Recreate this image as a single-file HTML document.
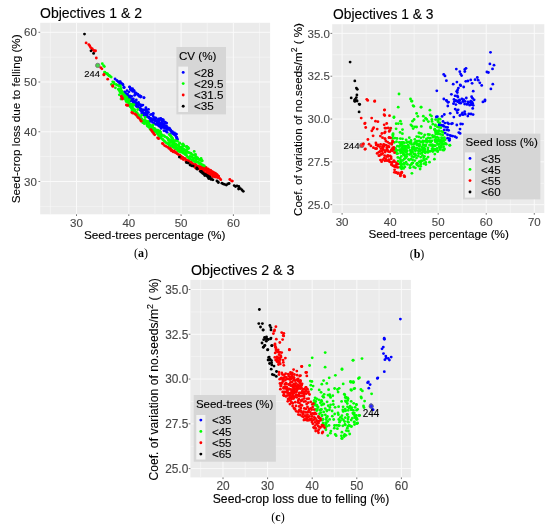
<!DOCTYPE html>
<html><head><meta charset="utf-8"><title>Objectives scatter plots</title>
<style>html,body{margin:0;padding:0;background:#fff;} svg{display:block;}</style>
</head><body>
<svg width="550" height="526" viewBox="0 0 550 526"><rect x="40.2" y="22.8" width="229.90" height="191.50" fill="#ebebeb"/>
<line x1="50.35" y1="22.8" x2="50.35" y2="214.3" stroke="#f8f8f8" stroke-width="0.6"/>
<line x1="102.65" y1="22.8" x2="102.65" y2="214.3" stroke="#f8f8f8" stroke-width="0.6"/>
<line x1="154.95" y1="22.8" x2="154.95" y2="214.3" stroke="#f8f8f8" stroke-width="0.6"/>
<line x1="207.25" y1="22.8" x2="207.25" y2="214.3" stroke="#f8f8f8" stroke-width="0.6"/>
<line x1="259.55" y1="22.8" x2="259.55" y2="214.3" stroke="#f8f8f8" stroke-width="0.6"/>
<line x1="40.2" y1="206.36" x2="270.1" y2="206.36" stroke="#f8f8f8" stroke-width="0.6"/>
<line x1="40.2" y1="156.62" x2="270.1" y2="156.62" stroke="#f8f8f8" stroke-width="0.6"/>
<line x1="40.2" y1="106.89" x2="270.1" y2="106.89" stroke="#f8f8f8" stroke-width="0.6"/>
<line x1="40.2" y1="57.16" x2="270.1" y2="57.16" stroke="#f8f8f8" stroke-width="0.6"/>
<line x1="76.50" y1="22.8" x2="76.50" y2="214.3" stroke="#fafafa" stroke-width="1.0"/>
<line x1="76.50" y1="214.3" x2="76.50" y2="216.0" stroke="#555" stroke-width="0.8"/>
<line x1="128.80" y1="22.8" x2="128.80" y2="214.3" stroke="#fafafa" stroke-width="1.0"/>
<line x1="128.80" y1="214.3" x2="128.80" y2="216.0" stroke="#555" stroke-width="0.8"/>
<line x1="181.10" y1="22.8" x2="181.10" y2="214.3" stroke="#fafafa" stroke-width="1.0"/>
<line x1="181.10" y1="214.3" x2="181.10" y2="216.0" stroke="#555" stroke-width="0.8"/>
<line x1="233.40" y1="22.8" x2="233.40" y2="214.3" stroke="#fafafa" stroke-width="1.0"/>
<line x1="233.40" y1="214.3" x2="233.40" y2="216.0" stroke="#555" stroke-width="0.8"/>
<line x1="40.2" y1="181.49" x2="270.1" y2="181.49" stroke="#fafafa" stroke-width="1.0"/>
<line x1="38.5" y1="181.49" x2="40.2" y2="181.49" stroke="#555" stroke-width="0.8"/>
<line x1="40.2" y1="131.76" x2="270.1" y2="131.76" stroke="#fafafa" stroke-width="1.0"/>
<line x1="38.5" y1="131.76" x2="40.2" y2="131.76" stroke="#555" stroke-width="0.8"/>
<line x1="40.2" y1="82.03" x2="270.1" y2="82.03" stroke="#fafafa" stroke-width="1.0"/>
<line x1="38.5" y1="82.03" x2="40.2" y2="82.03" stroke="#555" stroke-width="0.8"/>
<line x1="40.2" y1="32.30" x2="270.1" y2="32.30" stroke="#fafafa" stroke-width="1.0"/>
<line x1="38.5" y1="32.30" x2="40.2" y2="32.30" stroke="#555" stroke-width="0.8"/>
<text x="76.50" y="226.50" font-family="'Liberation Sans', Arial, sans-serif" font-size="11.5" fill="#474747" stroke="#474747" stroke-width="0.12" text-anchor="middle" font-weight="normal">30</text>
<text x="36.90" y="185.59" font-family="'Liberation Sans', Arial, sans-serif" font-size="11.5" fill="#474747" stroke="#474747" stroke-width="0.12" text-anchor="end" font-weight="normal">30</text>
<text x="128.80" y="226.50" font-family="'Liberation Sans', Arial, sans-serif" font-size="11.5" fill="#474747" stroke="#474747" stroke-width="0.12" text-anchor="middle" font-weight="normal">40</text>
<text x="36.90" y="135.86" font-family="'Liberation Sans', Arial, sans-serif" font-size="11.5" fill="#474747" stroke="#474747" stroke-width="0.12" text-anchor="end" font-weight="normal">40</text>
<text x="181.10" y="226.50" font-family="'Liberation Sans', Arial, sans-serif" font-size="11.5" fill="#474747" stroke="#474747" stroke-width="0.12" text-anchor="middle" font-weight="normal">50</text>
<text x="36.90" y="86.13" font-family="'Liberation Sans', Arial, sans-serif" font-size="11.5" fill="#474747" stroke="#474747" stroke-width="0.12" text-anchor="end" font-weight="normal">50</text>
<text x="233.40" y="226.50" font-family="'Liberation Sans', Arial, sans-serif" font-size="11.5" fill="#474747" stroke="#474747" stroke-width="0.12" text-anchor="middle" font-weight="normal">60</text>
<text x="36.90" y="36.40" font-family="'Liberation Sans', Arial, sans-serif" font-size="11.5" fill="#474747" stroke="#474747" stroke-width="0.12" text-anchor="end" font-weight="normal">60</text>
<text x="40.00" y="17.90" font-family="'Liberation Sans', Arial, sans-serif" font-size="14.0" fill="#000" stroke="#000" stroke-width="0.12" text-anchor="start" font-weight="normal">Objectives 1 &amp; 2</text>
<text x="154.70" y="239.30" font-family="'Liberation Sans', Arial, sans-serif" font-size="11.8" fill="#000" stroke="#000" stroke-width="0.12" text-anchor="middle" font-weight="normal">Seed-trees percentage (%)</text>
<text x="20.40" y="118.90" font-family="'Liberation Sans', Arial, sans-serif" font-size="11.7" fill="#000" stroke="#000" stroke-width="0.12" text-anchor="middle" font-weight="normal" transform="rotate(-90 20.40 118.90)">Seed-crop loss due to felling (%)</text>
<text x="141.00" y="257.20" font-family="'Liberation Serif', 'Times New Roman', serif" font-size="12" fill="#000" text-anchor="middle" font-weight="normal">(<tspan font-weight="bold">a</tspan>)</text>
<rect x="332.2" y="24.2" width="212.10" height="188.80" fill="#ebebeb"/>
<line x1="366.12" y1="24.2" x2="366.12" y2="213" stroke="#f8f8f8" stroke-width="0.6"/>
<line x1="414.18" y1="24.2" x2="414.18" y2="213" stroke="#f8f8f8" stroke-width="0.6"/>
<line x1="462.23" y1="24.2" x2="462.23" y2="213" stroke="#f8f8f8" stroke-width="0.6"/>
<line x1="510.27" y1="24.2" x2="510.27" y2="213" stroke="#f8f8f8" stroke-width="0.6"/>
<line x1="332.2" y1="183.29" x2="544.3" y2="183.29" stroke="#f8f8f8" stroke-width="0.6"/>
<line x1="332.2" y1="140.46" x2="544.3" y2="140.46" stroke="#f8f8f8" stroke-width="0.6"/>
<line x1="332.2" y1="97.64" x2="544.3" y2="97.64" stroke="#f8f8f8" stroke-width="0.6"/>
<line x1="332.2" y1="54.81" x2="544.3" y2="54.81" stroke="#f8f8f8" stroke-width="0.6"/>
<line x1="342.10" y1="24.2" x2="342.10" y2="213" stroke="#fafafa" stroke-width="1.0"/>
<line x1="342.10" y1="213" x2="342.10" y2="214.7" stroke="#555" stroke-width="0.8"/>
<line x1="390.15" y1="24.2" x2="390.15" y2="213" stroke="#fafafa" stroke-width="1.0"/>
<line x1="390.15" y1="213" x2="390.15" y2="214.7" stroke="#555" stroke-width="0.8"/>
<line x1="438.20" y1="24.2" x2="438.20" y2="213" stroke="#fafafa" stroke-width="1.0"/>
<line x1="438.20" y1="213" x2="438.20" y2="214.7" stroke="#555" stroke-width="0.8"/>
<line x1="486.25" y1="24.2" x2="486.25" y2="213" stroke="#fafafa" stroke-width="1.0"/>
<line x1="486.25" y1="213" x2="486.25" y2="214.7" stroke="#555" stroke-width="0.8"/>
<line x1="534.30" y1="24.2" x2="534.30" y2="213" stroke="#fafafa" stroke-width="1.0"/>
<line x1="534.30" y1="213" x2="534.30" y2="214.7" stroke="#555" stroke-width="0.8"/>
<line x1="332.2" y1="204.70" x2="544.3" y2="204.70" stroke="#fafafa" stroke-width="1.0"/>
<line x1="330.5" y1="204.70" x2="332.2" y2="204.70" stroke="#555" stroke-width="0.8"/>
<line x1="332.2" y1="161.88" x2="544.3" y2="161.88" stroke="#fafafa" stroke-width="1.0"/>
<line x1="330.5" y1="161.88" x2="332.2" y2="161.88" stroke="#555" stroke-width="0.8"/>
<line x1="332.2" y1="119.05" x2="544.3" y2="119.05" stroke="#fafafa" stroke-width="1.0"/>
<line x1="330.5" y1="119.05" x2="332.2" y2="119.05" stroke="#555" stroke-width="0.8"/>
<line x1="332.2" y1="76.22" x2="544.3" y2="76.22" stroke="#fafafa" stroke-width="1.0"/>
<line x1="330.5" y1="76.22" x2="332.2" y2="76.22" stroke="#555" stroke-width="0.8"/>
<line x1="332.2" y1="33.40" x2="544.3" y2="33.40" stroke="#fafafa" stroke-width="1.0"/>
<line x1="330.5" y1="33.40" x2="332.2" y2="33.40" stroke="#555" stroke-width="0.8"/>
<text x="342.10" y="225.50" font-family="'Liberation Sans', Arial, sans-serif" font-size="11.5" fill="#474747" stroke="#474747" stroke-width="0.12" text-anchor="middle" font-weight="normal">30</text>
<text x="390.15" y="225.50" font-family="'Liberation Sans', Arial, sans-serif" font-size="11.5" fill="#474747" stroke="#474747" stroke-width="0.12" text-anchor="middle" font-weight="normal">40</text>
<text x="438.20" y="225.50" font-family="'Liberation Sans', Arial, sans-serif" font-size="11.5" fill="#474747" stroke="#474747" stroke-width="0.12" text-anchor="middle" font-weight="normal">50</text>
<text x="486.25" y="225.50" font-family="'Liberation Sans', Arial, sans-serif" font-size="11.5" fill="#474747" stroke="#474747" stroke-width="0.12" text-anchor="middle" font-weight="normal">60</text>
<text x="534.30" y="225.50" font-family="'Liberation Sans', Arial, sans-serif" font-size="11.5" fill="#474747" stroke="#474747" stroke-width="0.12" text-anchor="middle" font-weight="normal">70</text>
<text x="329.90" y="208.90" font-family="'Liberation Sans', Arial, sans-serif" font-size="11.5" fill="#474747" stroke="#474747" stroke-width="0.12" text-anchor="end" font-weight="normal">25.0</text>
<text x="329.90" y="166.07" font-family="'Liberation Sans', Arial, sans-serif" font-size="11.5" fill="#474747" stroke="#474747" stroke-width="0.12" text-anchor="end" font-weight="normal">27.5</text>
<text x="329.90" y="123.25" font-family="'Liberation Sans', Arial, sans-serif" font-size="11.5" fill="#474747" stroke="#474747" stroke-width="0.12" text-anchor="end" font-weight="normal">30.0</text>
<text x="329.90" y="80.42" font-family="'Liberation Sans', Arial, sans-serif" font-size="11.5" fill="#474747" stroke="#474747" stroke-width="0.12" text-anchor="end" font-weight="normal">32.5</text>
<text x="329.90" y="37.60" font-family="'Liberation Sans', Arial, sans-serif" font-size="11.5" fill="#474747" stroke="#474747" stroke-width="0.12" text-anchor="end" font-weight="normal">35.0</text>
<text x="333.00" y="19.00" font-family="'Liberation Sans', Arial, sans-serif" font-size="13.8" fill="#000" stroke="#000" stroke-width="0.12" text-anchor="start" font-weight="normal">Objectives 1 &amp; 3</text>
<text x="438.70" y="238.00" font-family="'Liberation Sans', Arial, sans-serif" font-size="11.7" fill="#000" stroke="#000" stroke-width="0.12" text-anchor="middle" font-weight="normal">Seed-trees percentage (%)</text>
<text x="302.00" y="119.50" font-family="'Liberation Sans', Arial, sans-serif" font-size="11.6" fill="#000" stroke="#000" stroke-width="0.12" text-anchor="middle" font-weight="normal" transform="rotate(-90 302.00 119.50)">Coef. of variation of no.seeds/m<tspan dy="-5.3" font-size="8.6">2</tspan><tspan dy="5.3"> ( %)</tspan></text>
<text x="417.00" y="257.50" font-family="'Liberation Serif', 'Times New Roman', serif" font-size="12" fill="#000" text-anchor="middle" font-weight="normal">(<tspan font-weight="bold">b</tspan>)</text>
<rect x="190.4" y="279.9" width="220.50" height="197.50" fill="#ebebeb"/>
<line x1="200.70" y1="279.9" x2="200.70" y2="477.4" stroke="#f8f8f8" stroke-width="0.6"/>
<line x1="245.30" y1="279.9" x2="245.30" y2="477.4" stroke="#f8f8f8" stroke-width="0.6"/>
<line x1="289.90" y1="279.9" x2="289.90" y2="477.4" stroke="#f8f8f8" stroke-width="0.6"/>
<line x1="334.50" y1="279.9" x2="334.50" y2="477.4" stroke="#f8f8f8" stroke-width="0.6"/>
<line x1="379.10" y1="279.9" x2="379.10" y2="477.4" stroke="#f8f8f8" stroke-width="0.6"/>
<line x1="190.4" y1="446.21" x2="410.9" y2="446.21" stroke="#f8f8f8" stroke-width="0.6"/>
<line x1="190.4" y1="401.44" x2="410.9" y2="401.44" stroke="#f8f8f8" stroke-width="0.6"/>
<line x1="190.4" y1="356.66" x2="410.9" y2="356.66" stroke="#f8f8f8" stroke-width="0.6"/>
<line x1="190.4" y1="311.89" x2="410.9" y2="311.89" stroke="#f8f8f8" stroke-width="0.6"/>
<line x1="223.00" y1="279.9" x2="223.00" y2="477.4" stroke="#fafafa" stroke-width="1.0"/>
<line x1="223.00" y1="477.4" x2="223.00" y2="479.09999999999997" stroke="#555" stroke-width="0.8"/>
<line x1="267.60" y1="279.9" x2="267.60" y2="477.4" stroke="#fafafa" stroke-width="1.0"/>
<line x1="267.60" y1="477.4" x2="267.60" y2="479.09999999999997" stroke="#555" stroke-width="0.8"/>
<line x1="312.20" y1="279.9" x2="312.20" y2="477.4" stroke="#fafafa" stroke-width="1.0"/>
<line x1="312.20" y1="477.4" x2="312.20" y2="479.09999999999997" stroke="#555" stroke-width="0.8"/>
<line x1="356.80" y1="279.9" x2="356.80" y2="477.4" stroke="#fafafa" stroke-width="1.0"/>
<line x1="356.80" y1="477.4" x2="356.80" y2="479.09999999999997" stroke="#555" stroke-width="0.8"/>
<line x1="401.40" y1="279.9" x2="401.40" y2="477.4" stroke="#fafafa" stroke-width="1.0"/>
<line x1="401.40" y1="477.4" x2="401.40" y2="479.09999999999997" stroke="#555" stroke-width="0.8"/>
<line x1="190.4" y1="468.60" x2="410.9" y2="468.60" stroke="#fafafa" stroke-width="1.0"/>
<line x1="188.70000000000002" y1="468.60" x2="190.4" y2="468.60" stroke="#555" stroke-width="0.8"/>
<line x1="190.4" y1="423.82" x2="410.9" y2="423.82" stroke="#fafafa" stroke-width="1.0"/>
<line x1="188.70000000000002" y1="423.82" x2="190.4" y2="423.82" stroke="#555" stroke-width="0.8"/>
<line x1="190.4" y1="379.05" x2="410.9" y2="379.05" stroke="#fafafa" stroke-width="1.0"/>
<line x1="188.70000000000002" y1="379.05" x2="190.4" y2="379.05" stroke="#555" stroke-width="0.8"/>
<line x1="190.4" y1="334.27" x2="410.9" y2="334.27" stroke="#fafafa" stroke-width="1.0"/>
<line x1="188.70000000000002" y1="334.27" x2="190.4" y2="334.27" stroke="#555" stroke-width="0.8"/>
<line x1="190.4" y1="289.50" x2="410.9" y2="289.50" stroke="#fafafa" stroke-width="1.0"/>
<line x1="188.70000000000002" y1="289.50" x2="190.4" y2="289.50" stroke="#555" stroke-width="0.8"/>
<text x="223.00" y="489.90" font-family="'Liberation Sans', Arial, sans-serif" font-size="11.9" fill="#474747" stroke="#474747" stroke-width="0.12" text-anchor="middle" font-weight="normal">20</text>
<text x="267.60" y="489.90" font-family="'Liberation Sans', Arial, sans-serif" font-size="11.9" fill="#474747" stroke="#474747" stroke-width="0.12" text-anchor="middle" font-weight="normal">30</text>
<text x="312.20" y="489.90" font-family="'Liberation Sans', Arial, sans-serif" font-size="11.9" fill="#474747" stroke="#474747" stroke-width="0.12" text-anchor="middle" font-weight="normal">40</text>
<text x="356.80" y="489.90" font-family="'Liberation Sans', Arial, sans-serif" font-size="11.9" fill="#474747" stroke="#474747" stroke-width="0.12" text-anchor="middle" font-weight="normal">50</text>
<text x="401.40" y="489.90" font-family="'Liberation Sans', Arial, sans-serif" font-size="11.9" fill="#474747" stroke="#474747" stroke-width="0.12" text-anchor="middle" font-weight="normal">60</text>
<text x="188.30" y="472.90" font-family="'Liberation Sans', Arial, sans-serif" font-size="11.9" fill="#474747" stroke="#474747" stroke-width="0.12" text-anchor="end" font-weight="normal">25.0</text>
<text x="188.30" y="428.12" font-family="'Liberation Sans', Arial, sans-serif" font-size="11.9" fill="#474747" stroke="#474747" stroke-width="0.12" text-anchor="end" font-weight="normal">27.5</text>
<text x="188.30" y="383.35" font-family="'Liberation Sans', Arial, sans-serif" font-size="11.9" fill="#474747" stroke="#474747" stroke-width="0.12" text-anchor="end" font-weight="normal">30.0</text>
<text x="188.30" y="338.57" font-family="'Liberation Sans', Arial, sans-serif" font-size="11.9" fill="#474747" stroke="#474747" stroke-width="0.12" text-anchor="end" font-weight="normal">32.5</text>
<text x="188.30" y="293.80" font-family="'Liberation Sans', Arial, sans-serif" font-size="11.9" fill="#474747" stroke="#474747" stroke-width="0.12" text-anchor="end" font-weight="normal">35.0</text>
<text x="191.00" y="275.00" font-family="'Liberation Sans', Arial, sans-serif" font-size="14.2" fill="#000" stroke="#000" stroke-width="0.12" text-anchor="start" font-weight="normal">Objectives 2 &amp; 3</text>
<text x="301.00" y="503.00" font-family="'Liberation Sans', Arial, sans-serif" font-size="12.22" fill="#000" stroke="#000" stroke-width="0.12" text-anchor="middle" font-weight="normal">Seed-crop loss due to felling (%)</text>
<text x="158.40" y="379.40" font-family="'Liberation Sans', Arial, sans-serif" font-size="12.16" fill="#000" stroke="#000" stroke-width="0.12" text-anchor="middle" font-weight="normal" transform="rotate(-90 158.40 379.40)">Coef. of variation of no.seeds/m<tspan dy="-5.5" font-size="9">2</tspan><tspan dy="5.5"> ( %)</tspan></text>
<text x="278.00" y="521.00" font-family="'Liberation Serif', 'Times New Roman', serif" font-size="12" fill="#000" text-anchor="middle" font-weight="normal">(<tspan font-weight="bold">c</tspan>)</text>
<circle cx="119.6" cy="83.9" r="1.42" fill="#0000ff"/>
<circle cx="127.0" cy="90.7" r="1.42" fill="#0000ff"/>
<circle cx="129.0" cy="91.8" r="1.42" fill="#0000ff"/>
<circle cx="127.5" cy="93.8" r="1.42" fill="#0000ff"/>
<circle cx="129.9" cy="95.9" r="1.42" fill="#0000ff"/>
<circle cx="131.7" cy="96.5" r="1.42" fill="#0000ff"/>
<circle cx="134.6" cy="95.3" r="1.42" fill="#0000ff"/>
<circle cx="133.3" cy="98.8" r="1.42" fill="#0000ff"/>
<circle cx="133.4" cy="100.5" r="1.42" fill="#0000ff"/>
<circle cx="136.3" cy="99.9" r="1.42" fill="#0000ff"/>
<circle cx="133.6" cy="102.3" r="1.42" fill="#0000ff"/>
<circle cx="138.5" cy="102.5" r="1.42" fill="#0000ff"/>
<circle cx="136.3" cy="105.5" r="1.42" fill="#0000ff"/>
<circle cx="137.9" cy="105.6" r="1.42" fill="#0000ff"/>
<circle cx="140.8" cy="105.0" r="1.42" fill="#0000ff"/>
<circle cx="142.9" cy="105.1" r="1.42" fill="#0000ff"/>
<circle cx="145.9" cy="107.7" r="1.42" fill="#0000ff"/>
<circle cx="146.2" cy="109.3" r="1.42" fill="#0000ff"/>
<circle cx="148.5" cy="109.4" r="1.42" fill="#0000ff"/>
<circle cx="142.4" cy="112.5" r="1.42" fill="#0000ff"/>
<circle cx="143.3" cy="112.7" r="1.42" fill="#0000ff"/>
<circle cx="148.5" cy="112.3" r="1.42" fill="#0000ff"/>
<circle cx="153.3" cy="113.4" r="1.42" fill="#0000ff"/>
<circle cx="146.8" cy="115.7" r="1.42" fill="#0000ff"/>
<circle cx="150.5" cy="114.6" r="1.42" fill="#0000ff"/>
<circle cx="153.3" cy="116.7" r="1.42" fill="#0000ff"/>
<circle cx="155.6" cy="117.9" r="1.42" fill="#0000ff"/>
<circle cx="151.6" cy="120.6" r="1.42" fill="#0000ff"/>
<circle cx="154.8" cy="120.1" r="1.42" fill="#0000ff"/>
<circle cx="159.3" cy="120.6" r="1.42" fill="#0000ff"/>
<circle cx="162.4" cy="120.1" r="1.42" fill="#0000ff"/>
<circle cx="157.5" cy="122.8" r="1.42" fill="#0000ff"/>
<circle cx="162.1" cy="122.2" r="1.42" fill="#0000ff"/>
<circle cx="165.2" cy="122.1" r="1.42" fill="#0000ff"/>
<circle cx="162.9" cy="125.2" r="1.42" fill="#0000ff"/>
<circle cx="159.0" cy="126.1" r="1.42" fill="#0000ff"/>
<circle cx="160.0" cy="126.4" r="1.42" fill="#0000ff"/>
<circle cx="163.6" cy="127.3" r="1.42" fill="#0000ff"/>
<circle cx="161.2" cy="128.4" r="1.42" fill="#0000ff"/>
<circle cx="167.1" cy="129.6" r="1.42" fill="#0000ff"/>
<circle cx="115.1" cy="79.0" r="1.42" fill="#0000ff"/>
<circle cx="116.9" cy="80.5" r="1.42" fill="#0000ff"/>
<circle cx="118.2" cy="81.7" r="1.42" fill="#0000ff"/>
<circle cx="119.7" cy="82.0" r="1.42" fill="#0000ff"/>
<circle cx="120.8" cy="83.2" r="1.42" fill="#0000ff"/>
<circle cx="122.7" cy="84.1" r="1.42" fill="#0000ff"/>
<circle cx="124.2" cy="87.5" r="1.42" fill="#0000ff"/>
<circle cx="124.5" cy="91.9" r="1.42" fill="#0000ff"/>
<circle cx="125.4" cy="93.3" r="1.42" fill="#0000ff"/>
<circle cx="127.3" cy="94.7" r="1.42" fill="#0000ff"/>
<circle cx="128.4" cy="96.6" r="1.42" fill="#0000ff"/>
<circle cx="129.8" cy="98.1" r="1.42" fill="#0000ff"/>
<circle cx="130.8" cy="99.3" r="1.42" fill="#0000ff"/>
<circle cx="132.2" cy="100.7" r="1.42" fill="#0000ff"/>
<circle cx="134.3" cy="101.9" r="1.42" fill="#0000ff"/>
<circle cx="135.4" cy="102.3" r="1.42" fill="#0000ff"/>
<circle cx="127.9" cy="98.1" r="1.42" fill="#0000ff"/>
<circle cx="130.0" cy="100.9" r="1.42" fill="#0000ff"/>
<circle cx="129.5" cy="86.9" r="1.42" fill="#0000ff"/>
<circle cx="130.7" cy="88.5" r="1.42" fill="#0000ff"/>
<circle cx="131.1" cy="90.0" r="1.42" fill="#0000ff"/>
<circle cx="132.4" cy="90.5" r="1.42" fill="#0000ff"/>
<circle cx="132.9" cy="91.4" r="1.42" fill="#0000ff"/>
<circle cx="135.0" cy="93.1" r="1.42" fill="#0000ff"/>
<circle cx="136.0" cy="93.9" r="1.42" fill="#0000ff"/>
<circle cx="137.7" cy="94.5" r="1.42" fill="#0000ff"/>
<circle cx="139.1" cy="96.3" r="1.42" fill="#0000ff"/>
<circle cx="140.6" cy="97.1" r="1.42" fill="#0000ff"/>
<circle cx="144.0" cy="97.8" r="1.42" fill="#0000ff"/>
<circle cx="134.2" cy="101.3" r="1.42" fill="#0000ff"/>
<circle cx="137.0" cy="103.3" r="1.42" fill="#0000ff"/>
<circle cx="139.3" cy="104.6" r="1.42" fill="#0000ff"/>
<circle cx="141.1" cy="106.1" r="1.42" fill="#0000ff"/>
<circle cx="135.3" cy="104.2" r="1.42" fill="#0000ff"/>
<circle cx="137.4" cy="105.6" r="1.42" fill="#0000ff"/>
<circle cx="132.9" cy="103.5" r="1.42" fill="#0000ff"/>
<circle cx="120.3" cy="81.7" r="1.42" fill="#0000ff"/>
<circle cx="121.8" cy="83.7" r="1.42" fill="#0000ff"/>
<circle cx="123.1" cy="85.1" r="1.42" fill="#0000ff"/>
<circle cx="123.8" cy="87.4" r="1.42" fill="#0000ff"/>
<circle cx="129.8" cy="87.1" r="1.42" fill="#0000ff"/>
<circle cx="130.4" cy="89.2" r="1.42" fill="#0000ff"/>
<circle cx="132.5" cy="88.7" r="1.42" fill="#0000ff"/>
<circle cx="133.5" cy="90.2" r="1.42" fill="#0000ff"/>
<circle cx="134.3" cy="91.0" r="1.42" fill="#0000ff"/>
<circle cx="135.9" cy="92.9" r="1.42" fill="#0000ff"/>
<circle cx="137.0" cy="93.9" r="1.42" fill="#0000ff"/>
<circle cx="138.0" cy="94.4" r="1.42" fill="#0000ff"/>
<circle cx="139.8" cy="95.6" r="1.42" fill="#0000ff"/>
<circle cx="141.0" cy="96.3" r="1.42" fill="#0000ff"/>
<circle cx="143.9" cy="97.6" r="1.42" fill="#0000ff"/>
<circle cx="124.8" cy="92.4" r="1.42" fill="#0000ff"/>
<circle cx="126.1" cy="93.9" r="1.42" fill="#0000ff"/>
<circle cx="127.8" cy="96.0" r="1.42" fill="#0000ff"/>
<circle cx="129.2" cy="97.7" r="1.42" fill="#0000ff"/>
<circle cx="130.0" cy="98.6" r="1.42" fill="#0000ff"/>
<circle cx="130.9" cy="99.8" r="1.42" fill="#0000ff"/>
<circle cx="132.5" cy="100.5" r="1.42" fill="#0000ff"/>
<circle cx="133.8" cy="101.3" r="1.42" fill="#0000ff"/>
<circle cx="135.5" cy="102.2" r="1.42" fill="#0000ff"/>
<circle cx="137.0" cy="103.5" r="1.42" fill="#0000ff"/>
<circle cx="138.4" cy="103.9" r="1.42" fill="#0000ff"/>
<circle cx="139.4" cy="104.6" r="1.42" fill="#0000ff"/>
<circle cx="141.5" cy="105.4" r="1.42" fill="#0000ff"/>
<circle cx="135.0" cy="105.0" r="1.42" fill="#0000ff"/>
<circle cx="136.7" cy="106.5" r="1.42" fill="#0000ff"/>
<circle cx="138.4" cy="107.1" r="1.42" fill="#0000ff"/>
<circle cx="139.9" cy="107.9" r="1.42" fill="#0000ff"/>
<circle cx="141.1" cy="109.1" r="1.42" fill="#0000ff"/>
<circle cx="142.5" cy="109.9" r="1.42" fill="#0000ff"/>
<circle cx="143.9" cy="110.0" r="1.42" fill="#0000ff"/>
<circle cx="146.0" cy="110.6" r="1.42" fill="#0000ff"/>
<circle cx="146.9" cy="111.8" r="1.42" fill="#0000ff"/>
<circle cx="140.4" cy="110.2" r="1.42" fill="#0000ff"/>
<circle cx="141.5" cy="111.6" r="1.42" fill="#0000ff"/>
<circle cx="143.4" cy="112.8" r="1.42" fill="#0000ff"/>
<circle cx="145.0" cy="113.5" r="1.42" fill="#0000ff"/>
<circle cx="145.9" cy="113.8" r="1.42" fill="#0000ff"/>
<circle cx="141.9" cy="113.5" r="1.42" fill="#0000ff"/>
<circle cx="143.4" cy="115.0" r="1.42" fill="#0000ff"/>
<circle cx="145.4" cy="116.0" r="1.42" fill="#0000ff"/>
<circle cx="146.6" cy="116.4" r="1.42" fill="#0000ff"/>
<circle cx="148.4" cy="117.2" r="1.42" fill="#0000ff"/>
<circle cx="149.8" cy="118.1" r="1.42" fill="#0000ff"/>
<circle cx="150.9" cy="118.7" r="1.42" fill="#0000ff"/>
<circle cx="153.0" cy="119.4" r="1.42" fill="#0000ff"/>
<circle cx="154.5" cy="120.3" r="1.42" fill="#0000ff"/>
<circle cx="155.6" cy="121.0" r="1.42" fill="#0000ff"/>
<circle cx="157.5" cy="121.5" r="1.42" fill="#0000ff"/>
<circle cx="158.9" cy="122.6" r="1.42" fill="#0000ff"/>
<circle cx="160.0" cy="124.1" r="1.42" fill="#0000ff"/>
<circle cx="161.5" cy="124.2" r="1.42" fill="#0000ff"/>
<circle cx="163.7" cy="125.3" r="1.42" fill="#0000ff"/>
<circle cx="164.6" cy="125.6" r="1.42" fill="#0000ff"/>
<circle cx="166.2" cy="127.0" r="1.42" fill="#0000ff"/>
<circle cx="167.6" cy="127.7" r="1.42" fill="#0000ff"/>
<circle cx="169.3" cy="128.2" r="1.42" fill="#0000ff"/>
<circle cx="152.5" cy="114.1" r="1.42" fill="#0000ff"/>
<circle cx="154.6" cy="117.8" r="1.42" fill="#0000ff"/>
<circle cx="156.0" cy="118.4" r="1.42" fill="#0000ff"/>
<circle cx="158.5" cy="119.0" r="1.42" fill="#0000ff"/>
<circle cx="160.6" cy="118.7" r="1.42" fill="#0000ff"/>
<circle cx="161.9" cy="119.8" r="1.42" fill="#0000ff"/>
<circle cx="163.2" cy="121.0" r="1.42" fill="#0000ff"/>
<circle cx="165.1" cy="122.7" r="1.42" fill="#0000ff"/>
<circle cx="166.7" cy="123.1" r="1.42" fill="#0000ff"/>
<circle cx="150.0" cy="121.4" r="1.42" fill="#0000ff"/>
<circle cx="152.6" cy="122.4" r="1.42" fill="#0000ff"/>
<circle cx="154.4" cy="123.5" r="1.42" fill="#0000ff"/>
<circle cx="156.1" cy="124.4" r="1.42" fill="#0000ff"/>
<circle cx="158.1" cy="125.2" r="1.42" fill="#0000ff"/>
<circle cx="160.0" cy="126.2" r="1.42" fill="#0000ff"/>
<circle cx="145.8" cy="109.5" r="1.42" fill="#0000ff"/>
<circle cx="146.6" cy="111.2" r="1.42" fill="#0000ff"/>
<circle cx="146.3" cy="113.0" r="1.42" fill="#0000ff"/>
<circle cx="147.4" cy="114.0" r="1.42" fill="#0000ff"/>
<circle cx="146.9" cy="116.4" r="1.42" fill="#0000ff"/>
<circle cx="148.8" cy="117.0" r="1.42" fill="#0000ff"/>
<circle cx="149.4" cy="118.2" r="1.42" fill="#0000ff"/>
<circle cx="150.6" cy="118.7" r="1.42" fill="#0000ff"/>
<circle cx="151.9" cy="114.3" r="1.42" fill="#0000ff"/>
<circle cx="152.9" cy="114.8" r="1.42" fill="#0000ff"/>
<circle cx="151.1" cy="119.3" r="1.42" fill="#0000ff"/>
<circle cx="152.3" cy="120.2" r="1.42" fill="#0000ff"/>
<circle cx="153.9" cy="119.8" r="1.42" fill="#0000ff"/>
<circle cx="155.1" cy="118.9" r="1.42" fill="#0000ff"/>
<circle cx="155.3" cy="120.7" r="1.42" fill="#0000ff"/>
<circle cx="156.8" cy="120.9" r="1.42" fill="#0000ff"/>
<circle cx="158.4" cy="119.9" r="1.42" fill="#0000ff"/>
<circle cx="159.3" cy="120.0" r="1.42" fill="#0000ff"/>
<circle cx="160.3" cy="119.0" r="1.42" fill="#0000ff"/>
<circle cx="160.8" cy="118.6" r="1.42" fill="#0000ff"/>
<circle cx="162.4" cy="119.5" r="1.42" fill="#0000ff"/>
<circle cx="163.4" cy="119.9" r="1.42" fill="#0000ff"/>
<circle cx="157.4" cy="122.8" r="1.42" fill="#0000ff"/>
<circle cx="158.5" cy="124.0" r="1.42" fill="#0000ff"/>
<circle cx="160.3" cy="122.9" r="1.42" fill="#0000ff"/>
<circle cx="161.9" cy="123.3" r="1.42" fill="#0000ff"/>
<circle cx="163.3" cy="124.0" r="1.42" fill="#0000ff"/>
<circle cx="164.6" cy="123.4" r="1.42" fill="#0000ff"/>
<circle cx="165.3" cy="125.8" r="1.42" fill="#0000ff"/>
<circle cx="166.5" cy="125.9" r="1.42" fill="#0000ff"/>
<circle cx="160.4" cy="125.9" r="1.42" fill="#0000ff"/>
<circle cx="161.7" cy="126.7" r="1.42" fill="#0000ff"/>
<circle cx="163.4" cy="127.2" r="1.42" fill="#0000ff"/>
<circle cx="164.6" cy="128.1" r="1.42" fill="#0000ff"/>
<circle cx="166.0" cy="128.4" r="1.42" fill="#0000ff"/>
<circle cx="167.8" cy="129.2" r="1.42" fill="#0000ff"/>
<circle cx="169.2" cy="129.4" r="1.42" fill="#0000ff"/>
<circle cx="170.1" cy="130.0" r="1.42" fill="#0000ff"/>
<circle cx="170.9" cy="130.6" r="1.42" fill="#0000ff"/>
<circle cx="172.4" cy="131.7" r="1.42" fill="#0000ff"/>
<circle cx="173.1" cy="132.8" r="1.42" fill="#0000ff"/>
<circle cx="174.5" cy="132.9" r="1.42" fill="#0000ff"/>
<circle cx="176.2" cy="134.2" r="1.42" fill="#0000ff"/>
<circle cx="168.3" cy="128.2" r="1.42" fill="#0000ff"/>
<circle cx="169.8" cy="128.9" r="1.42" fill="#0000ff"/>
<circle cx="164.0" cy="130.7" r="1.42" fill="#0000ff"/>
<circle cx="165.6" cy="131.0" r="1.42" fill="#0000ff"/>
<circle cx="167.1" cy="132.3" r="1.42" fill="#0000ff"/>
<circle cx="176.5" cy="137.6" r="1.42" fill="#0000ff"/>
<circle cx="176.9" cy="138.9" r="1.42" fill="#0000ff"/>
<circle cx="175.4" cy="135.5" r="1.42" fill="#0000ff"/>
<circle cx="170.0" cy="129.3" r="1.42" fill="#0000ff"/>
<circle cx="170.8" cy="130.7" r="1.42" fill="#0000ff"/>
<circle cx="171.8" cy="132.4" r="1.42" fill="#0000ff"/>
<circle cx="173.2" cy="133.8" r="1.42" fill="#0000ff"/>
<circle cx="174.4" cy="134.7" r="1.42" fill="#0000ff"/>
<circle cx="176.2" cy="134.1" r="1.42" fill="#0000ff"/>
<circle cx="176.8" cy="137.4" r="1.42" fill="#0000ff"/>
<circle cx="177.4" cy="139.2" r="1.42" fill="#0000ff"/>
<circle cx="170.3" cy="133.9" r="1.42" fill="#0000ff"/>
<circle cx="114.0" cy="84.1" r="1.42" fill="#00ff00"/>
<circle cx="116.1" cy="84.4" r="1.42" fill="#00ff00"/>
<circle cx="119.5" cy="90.4" r="1.42" fill="#00ff00"/>
<circle cx="121.1" cy="91.2" r="1.42" fill="#00ff00"/>
<circle cx="119.3" cy="94.8" r="1.42" fill="#00ff00"/>
<circle cx="121.0" cy="99.1" r="1.42" fill="#00ff00"/>
<circle cx="126.6" cy="98.5" r="1.42" fill="#00ff00"/>
<circle cx="129.3" cy="99.6" r="1.42" fill="#00ff00"/>
<circle cx="126.2" cy="101.6" r="1.42" fill="#00ff00"/>
<circle cx="129.4" cy="104.7" r="1.42" fill="#00ff00"/>
<circle cx="130.6" cy="104.6" r="1.42" fill="#00ff00"/>
<circle cx="133.9" cy="104.7" r="1.42" fill="#00ff00"/>
<circle cx="130.0" cy="106.5" r="1.42" fill="#00ff00"/>
<circle cx="130.9" cy="106.6" r="1.42" fill="#00ff00"/>
<circle cx="132.5" cy="106.1" r="1.42" fill="#00ff00"/>
<circle cx="137.7" cy="109.5" r="1.42" fill="#00ff00"/>
<circle cx="138.4" cy="115.1" r="1.42" fill="#00ff00"/>
<circle cx="141.7" cy="115.1" r="1.42" fill="#00ff00"/>
<circle cx="145.2" cy="117.4" r="1.42" fill="#00ff00"/>
<circle cx="143.8" cy="121.2" r="1.42" fill="#00ff00"/>
<circle cx="149.8" cy="125.3" r="1.42" fill="#00ff00"/>
<circle cx="153.1" cy="125.1" r="1.42" fill="#00ff00"/>
<circle cx="150.9" cy="130.0" r="1.42" fill="#00ff00"/>
<circle cx="155.4" cy="129.7" r="1.42" fill="#00ff00"/>
<circle cx="157.7" cy="130.1" r="1.42" fill="#00ff00"/>
<circle cx="159.7" cy="130.8" r="1.42" fill="#00ff00"/>
<circle cx="160.6" cy="132.1" r="1.42" fill="#00ff00"/>
<circle cx="162.2" cy="135.3" r="1.42" fill="#00ff00"/>
<circle cx="160.4" cy="136.8" r="1.42" fill="#00ff00"/>
<circle cx="167.7" cy="138.4" r="1.42" fill="#00ff00"/>
<circle cx="171.4" cy="137.1" r="1.42" fill="#00ff00"/>
<circle cx="172.4" cy="139.2" r="1.42" fill="#00ff00"/>
<circle cx="168.8" cy="143.4" r="1.42" fill="#00ff00"/>
<circle cx="172.5" cy="142.6" r="1.42" fill="#00ff00"/>
<circle cx="169.2" cy="145.7" r="1.42" fill="#00ff00"/>
<circle cx="172.3" cy="145.2" r="1.42" fill="#00ff00"/>
<circle cx="176.1" cy="145.3" r="1.42" fill="#00ff00"/>
<circle cx="183.7" cy="145.0" r="1.42" fill="#00ff00"/>
<circle cx="182.1" cy="146.8" r="1.42" fill="#00ff00"/>
<circle cx="183.4" cy="146.2" r="1.42" fill="#00ff00"/>
<circle cx="186.1" cy="149.8" r="1.42" fill="#00ff00"/>
<circle cx="183.4" cy="151.8" r="1.42" fill="#00ff00"/>
<circle cx="194.2" cy="151.4" r="1.42" fill="#00ff00"/>
<circle cx="185.7" cy="154.5" r="1.42" fill="#00ff00"/>
<circle cx="191.1" cy="153.4" r="1.42" fill="#00ff00"/>
<circle cx="195.5" cy="154.3" r="1.42" fill="#00ff00"/>
<circle cx="196.5" cy="159.0" r="1.42" fill="#00ff00"/>
<circle cx="201.1" cy="158.5" r="1.42" fill="#00ff00"/>
<circle cx="102.3" cy="63.7" r="1.42" fill="#00ff00"/>
<circle cx="103.6" cy="65.7" r="1.42" fill="#00ff00"/>
<circle cx="104.4" cy="66.6" r="1.42" fill="#00ff00"/>
<circle cx="104.6" cy="72.1" r="1.42" fill="#00ff00"/>
<circle cx="106.3" cy="73.4" r="1.42" fill="#00ff00"/>
<circle cx="107.6" cy="74.0" r="1.42" fill="#00ff00"/>
<circle cx="109.2" cy="75.3" r="1.42" fill="#00ff00"/>
<circle cx="105.0" cy="72.4" r="1.42" fill="#00ff00"/>
<circle cx="106.3" cy="73.3" r="1.42" fill="#00ff00"/>
<circle cx="107.9" cy="74.8" r="1.42" fill="#00ff00"/>
<circle cx="109.1" cy="75.8" r="1.42" fill="#00ff00"/>
<circle cx="110.2" cy="76.3" r="1.42" fill="#00ff00"/>
<circle cx="111.2" cy="77.1" r="1.42" fill="#00ff00"/>
<circle cx="112.7" cy="81.8" r="1.42" fill="#00ff00"/>
<circle cx="113.9" cy="82.4" r="1.42" fill="#00ff00"/>
<circle cx="111.4" cy="84.4" r="1.42" fill="#00ff00"/>
<circle cx="115.4" cy="87.8" r="1.42" fill="#00ff00"/>
<circle cx="117.1" cy="85.1" r="1.42" fill="#00ff00"/>
<circle cx="118.8" cy="86.0" r="1.42" fill="#00ff00"/>
<circle cx="120.2" cy="86.0" r="1.42" fill="#00ff00"/>
<circle cx="118.4" cy="89.2" r="1.42" fill="#00ff00"/>
<circle cx="119.2" cy="90.4" r="1.42" fill="#00ff00"/>
<circle cx="120.2" cy="92.4" r="1.42" fill="#00ff00"/>
<circle cx="121.3" cy="93.2" r="1.42" fill="#00ff00"/>
<circle cx="122.8" cy="94.5" r="1.42" fill="#00ff00"/>
<circle cx="123.7" cy="96.6" r="1.42" fill="#00ff00"/>
<circle cx="125.4" cy="97.2" r="1.42" fill="#00ff00"/>
<circle cx="126.4" cy="99.4" r="1.42" fill="#00ff00"/>
<circle cx="127.0" cy="100.6" r="1.42" fill="#00ff00"/>
<circle cx="128.5" cy="102.2" r="1.42" fill="#00ff00"/>
<circle cx="129.5" cy="103.6" r="1.42" fill="#00ff00"/>
<circle cx="130.8" cy="104.8" r="1.42" fill="#00ff00"/>
<circle cx="119.7" cy="89.4" r="1.42" fill="#00ff00"/>
<circle cx="120.5" cy="90.9" r="1.42" fill="#00ff00"/>
<circle cx="121.8" cy="92.0" r="1.42" fill="#00ff00"/>
<circle cx="123.0" cy="93.4" r="1.42" fill="#00ff00"/>
<circle cx="124.0" cy="94.8" r="1.42" fill="#00ff00"/>
<circle cx="125.0" cy="96.0" r="1.42" fill="#00ff00"/>
<circle cx="127.0" cy="97.7" r="1.42" fill="#00ff00"/>
<circle cx="127.5" cy="99.6" r="1.42" fill="#00ff00"/>
<circle cx="128.9" cy="101.1" r="1.42" fill="#00ff00"/>
<circle cx="128.9" cy="102.6" r="1.42" fill="#00ff00"/>
<circle cx="130.3" cy="105.2" r="1.42" fill="#00ff00"/>
<circle cx="131.2" cy="106.6" r="1.42" fill="#00ff00"/>
<circle cx="128.9" cy="105.1" r="1.42" fill="#00ff00"/>
<circle cx="131.9" cy="104.1" r="1.42" fill="#00ff00"/>
<circle cx="120.3" cy="86.0" r="1.42" fill="#00ff00"/>
<circle cx="120.8" cy="88.3" r="1.42" fill="#00ff00"/>
<circle cx="121.1" cy="89.9" r="1.42" fill="#00ff00"/>
<circle cx="122.0" cy="91.4" r="1.42" fill="#00ff00"/>
<circle cx="122.8" cy="93.3" r="1.42" fill="#00ff00"/>
<circle cx="123.9" cy="94.8" r="1.42" fill="#00ff00"/>
<circle cx="124.9" cy="95.8" r="1.42" fill="#00ff00"/>
<circle cx="126.2" cy="97.0" r="1.42" fill="#00ff00"/>
<circle cx="126.8" cy="98.6" r="1.42" fill="#00ff00"/>
<circle cx="124.5" cy="98.9" r="1.42" fill="#00ff00"/>
<circle cx="125.8" cy="99.9" r="1.42" fill="#00ff00"/>
<circle cx="127.6" cy="102.0" r="1.42" fill="#00ff00"/>
<circle cx="128.4" cy="102.4" r="1.42" fill="#00ff00"/>
<circle cx="129.7" cy="104.4" r="1.42" fill="#00ff00"/>
<circle cx="130.9" cy="105.3" r="1.42" fill="#00ff00"/>
<circle cx="131.5" cy="106.5" r="1.42" fill="#00ff00"/>
<circle cx="132.3" cy="107.4" r="1.42" fill="#00ff00"/>
<circle cx="133.3" cy="108.7" r="1.42" fill="#00ff00"/>
<circle cx="134.6" cy="109.7" r="1.42" fill="#00ff00"/>
<circle cx="134.9" cy="111.1" r="1.42" fill="#00ff00"/>
<circle cx="136.3" cy="112.2" r="1.42" fill="#00ff00"/>
<circle cx="137.2" cy="113.1" r="1.42" fill="#00ff00"/>
<circle cx="138.3" cy="114.7" r="1.42" fill="#00ff00"/>
<circle cx="139.2" cy="116.1" r="1.42" fill="#00ff00"/>
<circle cx="140.5" cy="117.0" r="1.42" fill="#00ff00"/>
<circle cx="141.4" cy="118.6" r="1.42" fill="#00ff00"/>
<circle cx="142.0" cy="119.2" r="1.42" fill="#00ff00"/>
<circle cx="143.2" cy="120.6" r="1.42" fill="#00ff00"/>
<circle cx="144.1" cy="121.6" r="1.42" fill="#00ff00"/>
<circle cx="145.4" cy="122.1" r="1.42" fill="#00ff00"/>
<circle cx="146.5" cy="123.0" r="1.42" fill="#00ff00"/>
<circle cx="146.9" cy="124.5" r="1.42" fill="#00ff00"/>
<circle cx="147.9" cy="125.3" r="1.42" fill="#00ff00"/>
<circle cx="149.0" cy="126.3" r="1.42" fill="#00ff00"/>
<circle cx="150.5" cy="127.7" r="1.42" fill="#00ff00"/>
<circle cx="151.9" cy="127.6" r="1.42" fill="#00ff00"/>
<circle cx="131.3" cy="107.9" r="1.42" fill="#00ff00"/>
<circle cx="131.9" cy="110.0" r="1.42" fill="#00ff00"/>
<circle cx="133.8" cy="110.9" r="1.42" fill="#00ff00"/>
<circle cx="136.7" cy="115.5" r="1.42" fill="#00ff00"/>
<circle cx="138.8" cy="117.5" r="1.42" fill="#00ff00"/>
<circle cx="140.8" cy="119.7" r="1.42" fill="#00ff00"/>
<circle cx="142.8" cy="122.7" r="1.42" fill="#00ff00"/>
<circle cx="144.3" cy="123.7" r="1.42" fill="#00ff00"/>
<circle cx="144.7" cy="119.9" r="1.42" fill="#00ff00"/>
<circle cx="146.1" cy="121.0" r="1.42" fill="#00ff00"/>
<circle cx="147.1" cy="122.2" r="1.42" fill="#00ff00"/>
<circle cx="148.0" cy="121.4" r="1.42" fill="#00ff00"/>
<circle cx="148.9" cy="123.1" r="1.42" fill="#00ff00"/>
<circle cx="147.3" cy="126.0" r="1.42" fill="#00ff00"/>
<circle cx="148.5" cy="126.8" r="1.42" fill="#00ff00"/>
<circle cx="150.2" cy="124.8" r="1.42" fill="#00ff00"/>
<circle cx="151.2" cy="125.9" r="1.42" fill="#00ff00"/>
<circle cx="151.9" cy="126.5" r="1.42" fill="#00ff00"/>
<circle cx="152.8" cy="127.5" r="1.42" fill="#00ff00"/>
<circle cx="154.3" cy="128.5" r="1.42" fill="#00ff00"/>
<circle cx="154.8" cy="128.9" r="1.42" fill="#00ff00"/>
<circle cx="156.3" cy="130.2" r="1.42" fill="#00ff00"/>
<circle cx="149.9" cy="128.5" r="1.42" fill="#00ff00"/>
<circle cx="151.2" cy="129.2" r="1.42" fill="#00ff00"/>
<circle cx="153.0" cy="130.0" r="1.42" fill="#00ff00"/>
<circle cx="154.5" cy="131.4" r="1.42" fill="#00ff00"/>
<circle cx="156.3" cy="131.9" r="1.42" fill="#00ff00"/>
<circle cx="157.1" cy="133.5" r="1.42" fill="#00ff00"/>
<circle cx="158.3" cy="134.5" r="1.42" fill="#00ff00"/>
<circle cx="158.8" cy="135.7" r="1.42" fill="#00ff00"/>
<circle cx="160.3" cy="136.6" r="1.42" fill="#00ff00"/>
<circle cx="160.9" cy="138.0" r="1.42" fill="#00ff00"/>
<circle cx="162.3" cy="139.0" r="1.42" fill="#00ff00"/>
<circle cx="163.0" cy="139.7" r="1.42" fill="#00ff00"/>
<circle cx="164.0" cy="140.8" r="1.42" fill="#00ff00"/>
<circle cx="165.0" cy="141.7" r="1.42" fill="#00ff00"/>
<circle cx="157.3" cy="130.5" r="1.42" fill="#00ff00"/>
<circle cx="158.2" cy="131.0" r="1.42" fill="#00ff00"/>
<circle cx="159.2" cy="132.2" r="1.42" fill="#00ff00"/>
<circle cx="160.5" cy="133.4" r="1.42" fill="#00ff00"/>
<circle cx="161.4" cy="134.4" r="1.42" fill="#00ff00"/>
<circle cx="162.1" cy="135.5" r="1.42" fill="#00ff00"/>
<circle cx="163.9" cy="135.6" r="1.42" fill="#00ff00"/>
<circle cx="164.9" cy="136.7" r="1.42" fill="#00ff00"/>
<circle cx="166.7" cy="137.5" r="1.42" fill="#00ff00"/>
<circle cx="168.1" cy="138.8" r="1.42" fill="#00ff00"/>
<circle cx="169.4" cy="140.0" r="1.42" fill="#00ff00"/>
<circle cx="171.3" cy="140.7" r="1.42" fill="#00ff00"/>
<circle cx="172.6" cy="141.7" r="1.42" fill="#00ff00"/>
<circle cx="174.1" cy="143.0" r="1.42" fill="#00ff00"/>
<circle cx="175.7" cy="143.8" r="1.42" fill="#00ff00"/>
<circle cx="177.0" cy="145.1" r="1.42" fill="#00ff00"/>
<circle cx="178.6" cy="145.7" r="1.42" fill="#00ff00"/>
<circle cx="180.0" cy="147.2" r="1.42" fill="#00ff00"/>
<circle cx="181.8" cy="148.1" r="1.42" fill="#00ff00"/>
<circle cx="183.6" cy="149.2" r="1.42" fill="#00ff00"/>
<circle cx="185.0" cy="150.2" r="1.42" fill="#00ff00"/>
<circle cx="186.6" cy="151.1" r="1.42" fill="#00ff00"/>
<circle cx="187.6" cy="151.9" r="1.42" fill="#00ff00"/>
<circle cx="189.4" cy="152.7" r="1.42" fill="#00ff00"/>
<circle cx="166.4" cy="143.0" r="1.42" fill="#00ff00"/>
<circle cx="167.8" cy="143.7" r="1.42" fill="#00ff00"/>
<circle cx="169.5" cy="144.9" r="1.42" fill="#00ff00"/>
<circle cx="170.6" cy="145.8" r="1.42" fill="#00ff00"/>
<circle cx="172.5" cy="146.9" r="1.42" fill="#00ff00"/>
<circle cx="173.5" cy="147.6" r="1.42" fill="#00ff00"/>
<circle cx="175.4" cy="148.9" r="1.42" fill="#00ff00"/>
<circle cx="177.0" cy="149.6" r="1.42" fill="#00ff00"/>
<circle cx="178.2" cy="151.0" r="1.42" fill="#00ff00"/>
<circle cx="179.4" cy="151.6" r="1.42" fill="#00ff00"/>
<circle cx="181.3" cy="152.2" r="1.42" fill="#00ff00"/>
<circle cx="169.9" cy="135.1" r="1.42" fill="#00ff00"/>
<circle cx="169.3" cy="134.3" r="1.42" fill="#00ff00"/>
<circle cx="179.5" cy="143.0" r="1.42" fill="#00ff00"/>
<circle cx="182.5" cy="144.4" r="1.42" fill="#00ff00"/>
<circle cx="186.1" cy="146.6" r="1.42" fill="#00ff00"/>
<circle cx="188.0" cy="147.3" r="1.42" fill="#00ff00"/>
<circle cx="187.6" cy="148.5" r="1.42" fill="#00ff00"/>
<circle cx="183.1" cy="146.1" r="1.42" fill="#00ff00"/>
<circle cx="175.3" cy="140.5" r="1.42" fill="#00ff00"/>
<circle cx="177.5" cy="141.2" r="1.42" fill="#00ff00"/>
<circle cx="172.3" cy="138.3" r="1.42" fill="#00ff00"/>
<circle cx="168.5" cy="140.5" r="1.42" fill="#00ff00"/>
<circle cx="170.3" cy="142.5" r="1.42" fill="#00ff00"/>
<circle cx="173.6" cy="144.2" r="1.42" fill="#00ff00"/>
<circle cx="175.0" cy="146.5" r="1.42" fill="#00ff00"/>
<circle cx="179.4" cy="148.4" r="1.42" fill="#00ff00"/>
<circle cx="183.3" cy="150.3" r="1.42" fill="#00ff00"/>
<circle cx="170.3" cy="135.3" r="1.42" fill="#00ff00"/>
<circle cx="171.1" cy="136.3" r="1.42" fill="#00ff00"/>
<circle cx="172.3" cy="138.1" r="1.42" fill="#00ff00"/>
<circle cx="172.8" cy="139.5" r="1.42" fill="#00ff00"/>
<circle cx="170.1" cy="139.8" r="1.42" fill="#00ff00"/>
<circle cx="170.7" cy="141.5" r="1.42" fill="#00ff00"/>
<circle cx="172.3" cy="142.8" r="1.42" fill="#00ff00"/>
<circle cx="173.9" cy="143.2" r="1.42" fill="#00ff00"/>
<circle cx="174.6" cy="144.2" r="1.42" fill="#00ff00"/>
<circle cx="173.0" cy="145.2" r="1.42" fill="#00ff00"/>
<circle cx="175.3" cy="146.5" r="1.42" fill="#00ff00"/>
<circle cx="176.0" cy="147.3" r="1.42" fill="#00ff00"/>
<circle cx="176.9" cy="148.0" r="1.42" fill="#00ff00"/>
<circle cx="178.1" cy="148.7" r="1.42" fill="#00ff00"/>
<circle cx="179.1" cy="149.5" r="1.42" fill="#00ff00"/>
<circle cx="179.8" cy="150.3" r="1.42" fill="#00ff00"/>
<circle cx="181.4" cy="151.4" r="1.42" fill="#00ff00"/>
<circle cx="182.1" cy="151.6" r="1.42" fill="#00ff00"/>
<circle cx="183.0" cy="153.0" r="1.42" fill="#00ff00"/>
<circle cx="184.4" cy="153.8" r="1.42" fill="#00ff00"/>
<circle cx="185.4" cy="154.5" r="1.42" fill="#00ff00"/>
<circle cx="186.4" cy="155.1" r="1.42" fill="#00ff00"/>
<circle cx="187.1" cy="156.4" r="1.42" fill="#00ff00"/>
<circle cx="188.0" cy="157.4" r="1.42" fill="#00ff00"/>
<circle cx="189.1" cy="158.1" r="1.42" fill="#00ff00"/>
<circle cx="190.1" cy="159.0" r="1.42" fill="#00ff00"/>
<circle cx="191.6" cy="159.7" r="1.42" fill="#00ff00"/>
<circle cx="192.8" cy="160.5" r="1.42" fill="#00ff00"/>
<circle cx="194.5" cy="161.5" r="1.42" fill="#00ff00"/>
<circle cx="196.3" cy="162.1" r="1.42" fill="#00ff00"/>
<circle cx="198.6" cy="163.1" r="1.42" fill="#00ff00"/>
<circle cx="199.7" cy="163.9" r="1.42" fill="#00ff00"/>
<circle cx="201.4" cy="164.7" r="1.42" fill="#00ff00"/>
<circle cx="202.9" cy="165.8" r="1.42" fill="#00ff00"/>
<circle cx="204.4" cy="166.8" r="1.42" fill="#00ff00"/>
<circle cx="205.6" cy="167.5" r="1.42" fill="#00ff00"/>
<circle cx="179.8" cy="143.4" r="1.42" fill="#00ff00"/>
<circle cx="182.9" cy="143.9" r="1.42" fill="#00ff00"/>
<circle cx="186.8" cy="146.5" r="1.42" fill="#00ff00"/>
<circle cx="188.6" cy="148.5" r="1.42" fill="#00ff00"/>
<circle cx="179.0" cy="146.3" r="1.42" fill="#00ff00"/>
<circle cx="181.3" cy="147.4" r="1.42" fill="#00ff00"/>
<circle cx="184.2" cy="150.0" r="1.42" fill="#00ff00"/>
<circle cx="186.2" cy="151.2" r="1.42" fill="#00ff00"/>
<circle cx="188.0" cy="152.5" r="1.42" fill="#00ff00"/>
<circle cx="190.5" cy="153.4" r="1.42" fill="#00ff00"/>
<circle cx="192.2" cy="154.7" r="1.42" fill="#00ff00"/>
<circle cx="194.3" cy="155.0" r="1.42" fill="#00ff00"/>
<circle cx="196.0" cy="156.6" r="1.42" fill="#00ff00"/>
<circle cx="197.7" cy="157.9" r="1.42" fill="#00ff00"/>
<circle cx="199.5" cy="159.4" r="1.42" fill="#00ff00"/>
<circle cx="200.8" cy="160.0" r="1.42" fill="#00ff00"/>
<circle cx="202.2" cy="160.9" r="1.42" fill="#00ff00"/>
<circle cx="194.0" cy="158.2" r="1.42" fill="#00ff00"/>
<circle cx="196.0" cy="159.5" r="1.42" fill="#00ff00"/>
<circle cx="185.4" cy="152.9" r="1.42" fill="#00ff00"/>
<circle cx="182.0" cy="149.5" r="1.42" fill="#00ff00"/>
<circle cx="175.8" cy="144.7" r="1.42" fill="#00ff00"/>
<circle cx="174.0" cy="141.4" r="1.42" fill="#00ff00"/>
<circle cx="178.4" cy="145.0" r="1.42" fill="#00ff00"/>
<circle cx="190.1" cy="156.5" r="1.42" fill="#00ff00"/>
<circle cx="192.2" cy="157.0" r="1.42" fill="#00ff00"/>
<circle cx="193.4" cy="159.1" r="1.42" fill="#00ff00"/>
<circle cx="195.0" cy="155.2" r="1.42" fill="#00ff00"/>
<circle cx="196.3" cy="157.2" r="1.42" fill="#00ff00"/>
<circle cx="197.3" cy="158.4" r="1.42" fill="#00ff00"/>
<circle cx="198.4" cy="159.1" r="1.42" fill="#00ff00"/>
<circle cx="200.0" cy="160.3" r="1.42" fill="#00ff00"/>
<circle cx="201.8" cy="160.4" r="1.42" fill="#00ff00"/>
<circle cx="197.9" cy="161.8" r="1.42" fill="#00ff00"/>
<circle cx="199.5" cy="162.9" r="1.42" fill="#00ff00"/>
<circle cx="200.8" cy="163.7" r="1.42" fill="#00ff00"/>
<circle cx="202.6" cy="165.0" r="1.42" fill="#00ff00"/>
<circle cx="204.1" cy="165.7" r="1.42" fill="#00ff00"/>
<circle cx="204.3" cy="166.6" r="1.42" fill="#00ff00"/>
<circle cx="195.9" cy="160.2" r="1.42" fill="#00ff00"/>
<circle cx="86.1" cy="42.9" r="1.42" fill="#ff0000"/>
<circle cx="88.8" cy="44.6" r="1.42" fill="#ff0000"/>
<circle cx="89.8" cy="46.0" r="1.42" fill="#ff0000"/>
<circle cx="90.7" cy="47.6" r="1.42" fill="#ff0000"/>
<circle cx="92.1" cy="48.7" r="1.42" fill="#ff0000"/>
<circle cx="92.3" cy="49.5" r="1.42" fill="#ff0000"/>
<circle cx="93.8" cy="50.5" r="1.42" fill="#ff0000"/>
<circle cx="94.9" cy="51.2" r="1.42" fill="#ff0000"/>
<circle cx="95.5" cy="50.7" r="1.42" fill="#ff0000"/>
<circle cx="96.3" cy="58.0" r="1.42" fill="#ff0000"/>
<circle cx="100.7" cy="67.6" r="1.42" fill="#ff0000"/>
<circle cx="101.9" cy="68.8" r="1.42" fill="#ff0000"/>
<circle cx="103.9" cy="74.9" r="1.42" fill="#ff0000"/>
<circle cx="104.0" cy="74.5" r="1.42" fill="#ff0000"/>
<circle cx="107.7" cy="79.2" r="1.42" fill="#ff0000"/>
<circle cx="112.6" cy="85.7" r="1.42" fill="#ff0000"/>
<circle cx="112.8" cy="86.4" r="1.42" fill="#ff0000"/>
<circle cx="121.9" cy="97.9" r="1.42" fill="#ff0000"/>
<circle cx="122.4" cy="99.1" r="1.42" fill="#ff0000"/>
<circle cx="126.9" cy="105.2" r="1.42" fill="#ff0000"/>
<circle cx="121.4" cy="96.2" r="1.42" fill="#ff0000"/>
<circle cx="122.0" cy="97.3" r="1.42" fill="#ff0000"/>
<circle cx="122.4" cy="98.4" r="1.42" fill="#ff0000"/>
<circle cx="126.4" cy="104.9" r="1.42" fill="#ff0000"/>
<circle cx="127.7" cy="105.4" r="1.42" fill="#ff0000"/>
<circle cx="131.8" cy="112.4" r="1.42" fill="#ff0000"/>
<circle cx="132.8" cy="113.2" r="1.42" fill="#ff0000"/>
<circle cx="134.9" cy="114.0" r="1.42" fill="#ff0000"/>
<circle cx="136.3" cy="115.0" r="1.42" fill="#ff0000"/>
<circle cx="137.6" cy="117.1" r="1.42" fill="#ff0000"/>
<circle cx="138.7" cy="118.1" r="1.42" fill="#ff0000"/>
<circle cx="140.3" cy="119.7" r="1.42" fill="#ff0000"/>
<circle cx="141.2" cy="121.2" r="1.42" fill="#ff0000"/>
<circle cx="150.9" cy="129.6" r="1.42" fill="#ff0000"/>
<circle cx="151.8" cy="130.8" r="1.42" fill="#ff0000"/>
<circle cx="152.8" cy="132.3" r="1.42" fill="#ff0000"/>
<circle cx="153.8" cy="133.7" r="1.42" fill="#ff0000"/>
<circle cx="154.7" cy="134.8" r="1.42" fill="#ff0000"/>
<circle cx="157.6" cy="137.8" r="1.42" fill="#ff0000"/>
<circle cx="158.6" cy="138.7" r="1.42" fill="#ff0000"/>
<circle cx="162.4" cy="143.4" r="1.42" fill="#ff0000"/>
<circle cx="163.2" cy="144.0" r="1.42" fill="#ff0000"/>
<circle cx="164.6" cy="145.6" r="1.42" fill="#ff0000"/>
<circle cx="166.0" cy="146.3" r="1.42" fill="#ff0000"/>
<circle cx="167.7" cy="147.2" r="1.42" fill="#ff0000"/>
<circle cx="169.0" cy="148.4" r="1.42" fill="#ff0000"/>
<circle cx="170.7" cy="149.8" r="1.42" fill="#ff0000"/>
<circle cx="171.4" cy="150.8" r="1.42" fill="#ff0000"/>
<circle cx="173.3" cy="151.9" r="1.42" fill="#ff0000"/>
<circle cx="175.3" cy="152.6" r="1.42" fill="#ff0000"/>
<circle cx="170.2" cy="148.3" r="1.42" fill="#ff0000"/>
<circle cx="170.7" cy="149.5" r="1.42" fill="#ff0000"/>
<circle cx="172.1" cy="150.4" r="1.42" fill="#ff0000"/>
<circle cx="173.3" cy="151.4" r="1.42" fill="#ff0000"/>
<circle cx="174.3" cy="151.0" r="1.42" fill="#ff0000"/>
<circle cx="175.8" cy="152.4" r="1.42" fill="#ff0000"/>
<circle cx="176.9" cy="153.5" r="1.42" fill="#ff0000"/>
<circle cx="178.3" cy="154.5" r="1.42" fill="#ff0000"/>
<circle cx="180.0" cy="155.2" r="1.42" fill="#ff0000"/>
<circle cx="181.3" cy="156.3" r="1.42" fill="#ff0000"/>
<circle cx="182.9" cy="157.4" r="1.42" fill="#ff0000"/>
<circle cx="184.8" cy="158.3" r="1.42" fill="#ff0000"/>
<circle cx="185.8" cy="159.6" r="1.42" fill="#ff0000"/>
<circle cx="187.9" cy="160.4" r="1.42" fill="#ff0000"/>
<circle cx="189.1" cy="161.3" r="1.42" fill="#ff0000"/>
<circle cx="190.9" cy="162.2" r="1.42" fill="#ff0000"/>
<circle cx="192.4" cy="163.3" r="1.42" fill="#ff0000"/>
<circle cx="193.6" cy="164.6" r="1.42" fill="#ff0000"/>
<circle cx="195.1" cy="165.4" r="1.42" fill="#ff0000"/>
<circle cx="196.4" cy="165.8" r="1.42" fill="#ff0000"/>
<circle cx="197.9" cy="166.9" r="1.42" fill="#ff0000"/>
<circle cx="199.4" cy="167.0" r="1.42" fill="#ff0000"/>
<circle cx="201.0" cy="167.6" r="1.42" fill="#ff0000"/>
<circle cx="202.7" cy="168.2" r="1.42" fill="#ff0000"/>
<circle cx="204.1" cy="169.7" r="1.42" fill="#ff0000"/>
<circle cx="206.0" cy="169.9" r="1.42" fill="#ff0000"/>
<circle cx="207.5" cy="170.6" r="1.42" fill="#ff0000"/>
<circle cx="208.6" cy="171.6" r="1.42" fill="#ff0000"/>
<circle cx="210.1" cy="172.4" r="1.42" fill="#ff0000"/>
<circle cx="211.7" cy="173.1" r="1.42" fill="#ff0000"/>
<circle cx="213.5" cy="174.7" r="1.42" fill="#ff0000"/>
<circle cx="214.7" cy="175.1" r="1.42" fill="#ff0000"/>
<circle cx="216.2" cy="175.5" r="1.42" fill="#ff0000"/>
<circle cx="218.2" cy="176.1" r="1.42" fill="#ff0000"/>
<circle cx="218.5" cy="176.3" r="1.42" fill="#ff0000"/>
<circle cx="206.2" cy="167.7" r="1.42" fill="#ff0000"/>
<circle cx="208.0" cy="168.8" r="1.42" fill="#ff0000"/>
<circle cx="209.4" cy="169.9" r="1.42" fill="#ff0000"/>
<circle cx="210.8" cy="170.5" r="1.42" fill="#ff0000"/>
<circle cx="212.4" cy="171.6" r="1.42" fill="#ff0000"/>
<circle cx="213.6" cy="172.4" r="1.42" fill="#ff0000"/>
<circle cx="215.3" cy="173.2" r="1.42" fill="#ff0000"/>
<circle cx="217.0" cy="174.7" r="1.42" fill="#ff0000"/>
<circle cx="203.9" cy="172.6" r="1.42" fill="#ff0000"/>
<circle cx="206.2" cy="173.6" r="1.42" fill="#ff0000"/>
<circle cx="208.1" cy="174.5" r="1.42" fill="#ff0000"/>
<circle cx="210.0" cy="175.3" r="1.42" fill="#ff0000"/>
<circle cx="212.6" cy="176.5" r="1.42" fill="#ff0000"/>
<circle cx="214.5" cy="176.9" r="1.42" fill="#ff0000"/>
<circle cx="200.2" cy="169.3" r="1.42" fill="#ff0000"/>
<circle cx="198.4" cy="168.5" r="1.42" fill="#ff0000"/>
<circle cx="202.0" cy="170.3" r="1.42" fill="#ff0000"/>
<circle cx="195.2" cy="167.4" r="1.42" fill="#ff0000"/>
<circle cx="190.4" cy="164.5" r="1.42" fill="#ff0000"/>
<circle cx="187.9" cy="162.7" r="1.42" fill="#ff0000"/>
<circle cx="185.8" cy="160.9" r="1.42" fill="#ff0000"/>
<circle cx="183.3" cy="159.5" r="1.42" fill="#ff0000"/>
<circle cx="181.3" cy="158.4" r="1.42" fill="#ff0000"/>
<circle cx="194.4" cy="166.2" r="1.42" fill="#ff0000"/>
<circle cx="195.9" cy="168.1" r="1.42" fill="#ff0000"/>
<circle cx="195.2" cy="164.5" r="1.42" fill="#ff0000"/>
<circle cx="196.2" cy="165.1" r="1.42" fill="#ff0000"/>
<circle cx="198.1" cy="166.3" r="1.42" fill="#ff0000"/>
<circle cx="199.8" cy="166.7" r="1.42" fill="#ff0000"/>
<circle cx="201.0" cy="167.3" r="1.42" fill="#ff0000"/>
<circle cx="202.8" cy="168.5" r="1.42" fill="#ff0000"/>
<circle cx="204.4" cy="168.8" r="1.42" fill="#ff0000"/>
<circle cx="205.5" cy="169.0" r="1.42" fill="#ff0000"/>
<circle cx="207.3" cy="170.5" r="1.42" fill="#ff0000"/>
<circle cx="208.9" cy="170.5" r="1.42" fill="#ff0000"/>
<circle cx="210.2" cy="171.2" r="1.42" fill="#ff0000"/>
<circle cx="211.6" cy="171.9" r="1.42" fill="#ff0000"/>
<circle cx="213.4" cy="172.9" r="1.42" fill="#ff0000"/>
<circle cx="214.8" cy="173.8" r="1.42" fill="#ff0000"/>
<circle cx="216.3" cy="174.2" r="1.42" fill="#ff0000"/>
<circle cx="217.5" cy="175.4" r="1.42" fill="#ff0000"/>
<circle cx="218.4" cy="176.3" r="1.42" fill="#ff0000"/>
<circle cx="219.6" cy="178.3" r="1.42" fill="#ff0000"/>
<circle cx="220.8" cy="179.7" r="1.42" fill="#ff0000"/>
<circle cx="198.4" cy="168.5" r="1.42" fill="#ff0000"/>
<circle cx="199.7" cy="169.5" r="1.42" fill="#ff0000"/>
<circle cx="201.9" cy="170.0" r="1.42" fill="#ff0000"/>
<circle cx="204.0" cy="171.3" r="1.42" fill="#ff0000"/>
<circle cx="206.4" cy="172.3" r="1.42" fill="#ff0000"/>
<circle cx="208.0" cy="173.2" r="1.42" fill="#ff0000"/>
<circle cx="210.1" cy="174.2" r="1.42" fill="#ff0000"/>
<circle cx="212.1" cy="174.5" r="1.42" fill="#ff0000"/>
<circle cx="214.1" cy="175.6" r="1.42" fill="#ff0000"/>
<circle cx="215.9" cy="177.0" r="1.42" fill="#ff0000"/>
<circle cx="217.6" cy="177.5" r="1.42" fill="#ff0000"/>
<circle cx="229.8" cy="179.5" r="1.42" fill="#ff0000"/>
<circle cx="231.5" cy="180.8" r="1.42" fill="#ff0000"/>
<circle cx="232.4" cy="181.1" r="1.42" fill="#ff0000"/>
<circle cx="84.5" cy="34.1" r="1.42" fill="#000000"/>
<circle cx="91.0" cy="50.8" r="1.42" fill="#000000"/>
<circle cx="93.6" cy="53.4" r="1.42" fill="#000000"/>
<circle cx="179.3" cy="157.1" r="1.42" fill="#000000"/>
<circle cx="186.4" cy="162.5" r="1.42" fill="#000000"/>
<circle cx="188.2" cy="163.1" r="1.42" fill="#000000"/>
<circle cx="190.1" cy="165.0" r="1.42" fill="#000000"/>
<circle cx="191.7" cy="165.8" r="1.42" fill="#000000"/>
<circle cx="193.1" cy="166.1" r="1.42" fill="#000000"/>
<circle cx="196.8" cy="168.0" r="1.42" fill="#000000"/>
<circle cx="197.4" cy="169.0" r="1.42" fill="#000000"/>
<circle cx="201.4" cy="171.3" r="1.42" fill="#000000"/>
<circle cx="202.4" cy="172.4" r="1.42" fill="#000000"/>
<circle cx="204.0" cy="173.9" r="1.42" fill="#000000"/>
<circle cx="205.5" cy="174.7" r="1.42" fill="#000000"/>
<circle cx="207.2" cy="175.7" r="1.42" fill="#000000"/>
<circle cx="208.4" cy="177.2" r="1.42" fill="#000000"/>
<circle cx="196.9" cy="168.9" r="1.42" fill="#000000"/>
<circle cx="200.3" cy="171.3" r="1.42" fill="#000000"/>
<circle cx="201.4" cy="172.2" r="1.42" fill="#000000"/>
<circle cx="202.8" cy="173.4" r="1.42" fill="#000000"/>
<circle cx="204.4" cy="174.2" r="1.42" fill="#000000"/>
<circle cx="205.9" cy="174.9" r="1.42" fill="#000000"/>
<circle cx="207.7" cy="175.8" r="1.42" fill="#000000"/>
<circle cx="209.3" cy="176.6" r="1.42" fill="#000000"/>
<circle cx="209.8" cy="178.0" r="1.42" fill="#000000"/>
<circle cx="211.5" cy="179.0" r="1.42" fill="#000000"/>
<circle cx="212.9" cy="179.8" r="1.42" fill="#000000"/>
<circle cx="204.8" cy="175.5" r="1.42" fill="#000000"/>
<circle cx="207.2" cy="176.3" r="1.42" fill="#000000"/>
<circle cx="208.9" cy="177.4" r="1.42" fill="#000000"/>
<circle cx="210.9" cy="179.3" r="1.42" fill="#000000"/>
<circle cx="208.7" cy="178.5" r="1.42" fill="#000000"/>
<circle cx="210.0" cy="177.3" r="1.42" fill="#000000"/>
<circle cx="216.9" cy="180.9" r="1.42" fill="#000000"/>
<circle cx="218.0" cy="181.9" r="1.42" fill="#000000"/>
<circle cx="218.4" cy="182.6" r="1.42" fill="#000000"/>
<circle cx="221.9" cy="183.2" r="1.42" fill="#000000"/>
<circle cx="223.2" cy="183.9" r="1.42" fill="#000000"/>
<circle cx="224.6" cy="184.4" r="1.42" fill="#000000"/>
<circle cx="226.3" cy="185.1" r="1.42" fill="#000000"/>
<circle cx="227.7" cy="184.0" r="1.42" fill="#000000"/>
<circle cx="229.1" cy="183.5" r="1.42" fill="#000000"/>
<circle cx="234.2" cy="185.6" r="1.42" fill="#000000"/>
<circle cx="235.5" cy="186.5" r="1.42" fill="#000000"/>
<circle cx="237.0" cy="185.8" r="1.42" fill="#000000"/>
<circle cx="238.8" cy="186.5" r="1.42" fill="#000000"/>
<circle cx="239.1" cy="188.0" r="1.42" fill="#000000"/>
<circle cx="240.4" cy="188.6" r="1.42" fill="#000000"/>
<circle cx="238.6" cy="189.0" r="1.42" fill="#000000"/>
<circle cx="242.0" cy="190.0" r="1.42" fill="#000000"/>
<circle cx="243.3" cy="191.3" r="1.42" fill="#000000"/>
<circle cx="97.7" cy="65.4" r="2.2" fill="#44d844" stroke="#777" stroke-width="0.9"/>
<text x="92.20" y="76.50" font-family="'Liberation Sans', Arial, sans-serif" font-size="9.4" fill="#000" stroke="#000" stroke-width="0.12" text-anchor="middle" font-weight="normal">244</text>
<circle cx="394.0" cy="117.0" r="1.42" fill="#00ff00"/>
<circle cx="392.9" cy="134.6" r="1.42" fill="#00ff00"/>
<circle cx="392.6" cy="138.4" r="1.42" fill="#00ff00"/>
<circle cx="394.0" cy="149.9" r="1.42" fill="#00ff00"/>
<circle cx="390.7" cy="128.5" r="1.42" fill="#00ff00"/>
<circle cx="412.0" cy="101.1" r="1.42" fill="#00ff00"/>
<circle cx="413.1" cy="105.6" r="1.42" fill="#00ff00"/>
<circle cx="421.0" cy="107.1" r="1.42" fill="#00ff00"/>
<circle cx="429.9" cy="110.2" r="1.42" fill="#00ff00"/>
<circle cx="416.6" cy="113.4" r="1.42" fill="#00ff00"/>
<circle cx="417.8" cy="116.3" r="1.42" fill="#00ff00"/>
<circle cx="423.3" cy="116.2" r="1.42" fill="#00ff00"/>
<circle cx="425.6" cy="118.2" r="1.42" fill="#00ff00"/>
<circle cx="430.2" cy="114.9" r="1.42" fill="#00ff00"/>
<circle cx="431.5" cy="116.1" r="1.42" fill="#00ff00"/>
<circle cx="393.9" cy="117.6" r="1.42" fill="#00ff00"/>
<circle cx="423.8" cy="120.7" r="1.42" fill="#00ff00"/>
<circle cx="426.8" cy="119.4" r="1.42" fill="#00ff00"/>
<circle cx="428.4" cy="121.6" r="1.42" fill="#00ff00"/>
<circle cx="431.9" cy="119.5" r="1.42" fill="#00ff00"/>
<circle cx="432.0" cy="121.4" r="1.42" fill="#00ff00"/>
<circle cx="432.9" cy="124.2" r="1.42" fill="#00ff00"/>
<circle cx="435.4" cy="124.9" r="1.42" fill="#00ff00"/>
<circle cx="400.4" cy="121.2" r="1.42" fill="#00ff00"/>
<circle cx="401.3" cy="123.8" r="1.42" fill="#00ff00"/>
<circle cx="396.2" cy="123.7" r="1.42" fill="#00ff00"/>
<circle cx="398.3" cy="123.6" r="1.42" fill="#00ff00"/>
<circle cx="412.5" cy="121.2" r="1.42" fill="#00ff00"/>
<circle cx="414.1" cy="119.5" r="1.42" fill="#00ff00"/>
<circle cx="410.9" cy="124.8" r="1.42" fill="#00ff00"/>
<circle cx="412.2" cy="126.2" r="1.42" fill="#00ff00"/>
<circle cx="414.9" cy="126.8" r="1.42" fill="#00ff00"/>
<circle cx="416.6" cy="127.0" r="1.42" fill="#00ff00"/>
<circle cx="421.3" cy="126.4" r="1.42" fill="#00ff00"/>
<circle cx="430.5" cy="127.0" r="1.42" fill="#00ff00"/>
<circle cx="430.7" cy="127.9" r="1.42" fill="#00ff00"/>
<circle cx="396.1" cy="128.8" r="1.42" fill="#00ff00"/>
<circle cx="402.5" cy="129.6" r="1.42" fill="#00ff00"/>
<circle cx="413.2" cy="128.6" r="1.42" fill="#00ff00"/>
<circle cx="434.5" cy="129.6" r="1.42" fill="#00ff00"/>
<circle cx="435.1" cy="130.6" r="1.42" fill="#00ff00"/>
<circle cx="437.8" cy="132.6" r="1.42" fill="#00ff00"/>
<circle cx="439.2" cy="130.7" r="1.42" fill="#00ff00"/>
<circle cx="400.1" cy="132.4" r="1.42" fill="#00ff00"/>
<circle cx="402.4" cy="133.7" r="1.42" fill="#00ff00"/>
<circle cx="393.1" cy="133.7" r="1.42" fill="#00ff00"/>
<circle cx="392.9" cy="135.8" r="1.42" fill="#00ff00"/>
<circle cx="418.9" cy="132.9" r="1.42" fill="#00ff00"/>
<circle cx="419.6" cy="133.1" r="1.42" fill="#00ff00"/>
<circle cx="421.3" cy="133.6" r="1.42" fill="#00ff00"/>
<circle cx="424.7" cy="134.9" r="1.42" fill="#00ff00"/>
<circle cx="428.0" cy="134.4" r="1.42" fill="#00ff00"/>
<circle cx="429.5" cy="134.7" r="1.42" fill="#00ff00"/>
<circle cx="432.5" cy="135.4" r="1.42" fill="#00ff00"/>
<circle cx="435.7" cy="133.9" r="1.42" fill="#00ff00"/>
<circle cx="437.9" cy="134.1" r="1.42" fill="#00ff00"/>
<circle cx="416.7" cy="136.6" r="1.42" fill="#00ff00"/>
<circle cx="418.7" cy="136.8" r="1.42" fill="#00ff00"/>
<circle cx="420.9" cy="137.8" r="1.42" fill="#00ff00"/>
<circle cx="423.5" cy="137.0" r="1.42" fill="#00ff00"/>
<circle cx="426.4" cy="138.9" r="1.42" fill="#00ff00"/>
<circle cx="428.2" cy="137.8" r="1.42" fill="#00ff00"/>
<circle cx="430.2" cy="138.2" r="1.42" fill="#00ff00"/>
<circle cx="432.9" cy="137.2" r="1.42" fill="#00ff00"/>
<circle cx="435.7" cy="137.8" r="1.42" fill="#00ff00"/>
<circle cx="438.5" cy="138.0" r="1.42" fill="#00ff00"/>
<circle cx="394.9" cy="138.1" r="1.42" fill="#00ff00"/>
<circle cx="397.0" cy="138.5" r="1.42" fill="#00ff00"/>
<circle cx="400.4" cy="138.6" r="1.42" fill="#00ff00"/>
<circle cx="402.5" cy="138.8" r="1.42" fill="#00ff00"/>
<circle cx="409.3" cy="137.7" r="1.42" fill="#00ff00"/>
<circle cx="411.0" cy="140.4" r="1.42" fill="#00ff00"/>
<circle cx="414.8" cy="139.4" r="1.42" fill="#00ff00"/>
<circle cx="417.2" cy="141.2" r="1.42" fill="#00ff00"/>
<circle cx="419.2" cy="140.8" r="1.42" fill="#00ff00"/>
<circle cx="422.8" cy="141.0" r="1.42" fill="#00ff00"/>
<circle cx="425.1" cy="141.1" r="1.42" fill="#00ff00"/>
<circle cx="427.7" cy="141.1" r="1.42" fill="#00ff00"/>
<circle cx="429.6" cy="141.2" r="1.42" fill="#00ff00"/>
<circle cx="432.0" cy="140.8" r="1.42" fill="#00ff00"/>
<circle cx="435.5" cy="141.7" r="1.42" fill="#00ff00"/>
<circle cx="437.9" cy="141.0" r="1.42" fill="#00ff00"/>
<circle cx="439.9" cy="141.5" r="1.42" fill="#00ff00"/>
<circle cx="394.3" cy="142.4" r="1.42" fill="#00ff00"/>
<circle cx="396.5" cy="141.7" r="1.42" fill="#00ff00"/>
<circle cx="399.3" cy="142.3" r="1.42" fill="#00ff00"/>
<circle cx="400.5" cy="142.7" r="1.42" fill="#00ff00"/>
<circle cx="404.3" cy="143.0" r="1.42" fill="#00ff00"/>
<circle cx="407.9" cy="141.9" r="1.42" fill="#00ff00"/>
<circle cx="410.4" cy="143.2" r="1.42" fill="#00ff00"/>
<circle cx="411.7" cy="144.4" r="1.42" fill="#00ff00"/>
<circle cx="415.1" cy="142.7" r="1.42" fill="#00ff00"/>
<circle cx="417.5" cy="144.0" r="1.42" fill="#00ff00"/>
<circle cx="419.7" cy="145.1" r="1.42" fill="#00ff00"/>
<circle cx="423.0" cy="144.7" r="1.42" fill="#00ff00"/>
<circle cx="424.3" cy="145.2" r="1.42" fill="#00ff00"/>
<circle cx="430.4" cy="144.9" r="1.42" fill="#00ff00"/>
<circle cx="432.3" cy="144.7" r="1.42" fill="#00ff00"/>
<circle cx="435.5" cy="145.6" r="1.42" fill="#00ff00"/>
<circle cx="438.0" cy="144.6" r="1.42" fill="#00ff00"/>
<circle cx="397.3" cy="146.2" r="1.42" fill="#00ff00"/>
<circle cx="399.2" cy="146.5" r="1.42" fill="#00ff00"/>
<circle cx="402.4" cy="147.5" r="1.42" fill="#00ff00"/>
<circle cx="404.5" cy="146.3" r="1.42" fill="#00ff00"/>
<circle cx="407.7" cy="147.6" r="1.42" fill="#00ff00"/>
<circle cx="409.0" cy="147.5" r="1.42" fill="#00ff00"/>
<circle cx="412.3" cy="148.4" r="1.42" fill="#00ff00"/>
<circle cx="414.2" cy="147.3" r="1.42" fill="#00ff00"/>
<circle cx="416.8" cy="148.2" r="1.42" fill="#00ff00"/>
<circle cx="419.3" cy="148.8" r="1.42" fill="#00ff00"/>
<circle cx="422.4" cy="147.8" r="1.42" fill="#00ff00"/>
<circle cx="424.9" cy="148.8" r="1.42" fill="#00ff00"/>
<circle cx="428.0" cy="147.8" r="1.42" fill="#00ff00"/>
<circle cx="432.8" cy="148.6" r="1.42" fill="#00ff00"/>
<circle cx="434.8" cy="149.1" r="1.42" fill="#00ff00"/>
<circle cx="437.1" cy="148.4" r="1.42" fill="#00ff00"/>
<circle cx="396.6" cy="150.2" r="1.42" fill="#00ff00"/>
<circle cx="399.5" cy="150.6" r="1.42" fill="#00ff00"/>
<circle cx="402.6" cy="149.4" r="1.42" fill="#00ff00"/>
<circle cx="405.0" cy="150.3" r="1.42" fill="#00ff00"/>
<circle cx="407.0" cy="151.0" r="1.42" fill="#00ff00"/>
<circle cx="410.0" cy="150.4" r="1.42" fill="#00ff00"/>
<circle cx="412.6" cy="151.9" r="1.42" fill="#00ff00"/>
<circle cx="415.4" cy="150.3" r="1.42" fill="#00ff00"/>
<circle cx="418.3" cy="150.8" r="1.42" fill="#00ff00"/>
<circle cx="420.0" cy="151.1" r="1.42" fill="#00ff00"/>
<circle cx="423.0" cy="151.7" r="1.42" fill="#00ff00"/>
<circle cx="424.7" cy="151.1" r="1.42" fill="#00ff00"/>
<circle cx="427.9" cy="152.4" r="1.42" fill="#00ff00"/>
<circle cx="430.5" cy="151.1" r="1.42" fill="#00ff00"/>
<circle cx="432.8" cy="151.5" r="1.42" fill="#00ff00"/>
<circle cx="436.0" cy="150.3" r="1.42" fill="#00ff00"/>
<circle cx="437.7" cy="151.7" r="1.42" fill="#00ff00"/>
<circle cx="395.5" cy="151.8" r="1.42" fill="#00ff00"/>
<circle cx="401.0" cy="152.1" r="1.42" fill="#00ff00"/>
<circle cx="405.7" cy="152.3" r="1.42" fill="#00ff00"/>
<circle cx="438.5" cy="118.9" r="1.42" fill="#00ff00"/>
<circle cx="438.0" cy="121.7" r="1.42" fill="#00ff00"/>
<circle cx="439.2" cy="124.0" r="1.42" fill="#00ff00"/>
<circle cx="435.6" cy="119.6" r="1.42" fill="#00ff00"/>
<circle cx="437.9" cy="120.6" r="1.42" fill="#00ff00"/>
<circle cx="440.1" cy="119.2" r="1.42" fill="#00ff00"/>
<circle cx="439.8" cy="122.8" r="1.42" fill="#00ff00"/>
<circle cx="435.4" cy="125.7" r="1.42" fill="#00ff00"/>
<circle cx="437.4" cy="126.9" r="1.42" fill="#00ff00"/>
<circle cx="439.2" cy="127.4" r="1.42" fill="#00ff00"/>
<circle cx="440.9" cy="127.7" r="1.42" fill="#00ff00"/>
<circle cx="434.8" cy="129.2" r="1.42" fill="#00ff00"/>
<circle cx="436.6" cy="130.9" r="1.42" fill="#00ff00"/>
<circle cx="438.4" cy="131.0" r="1.42" fill="#00ff00"/>
<circle cx="441.6" cy="131.3" r="1.42" fill="#00ff00"/>
<circle cx="443.0" cy="132.3" r="1.42" fill="#00ff00"/>
<circle cx="435.5" cy="132.1" r="1.42" fill="#00ff00"/>
<circle cx="437.2" cy="133.3" r="1.42" fill="#00ff00"/>
<circle cx="439.6" cy="133.7" r="1.42" fill="#00ff00"/>
<circle cx="440.6" cy="134.4" r="1.42" fill="#00ff00"/>
<circle cx="442.7" cy="135.0" r="1.42" fill="#00ff00"/>
<circle cx="434.6" cy="136.4" r="1.42" fill="#00ff00"/>
<circle cx="436.8" cy="137.1" r="1.42" fill="#00ff00"/>
<circle cx="441.5" cy="137.7" r="1.42" fill="#00ff00"/>
<circle cx="442.5" cy="138.3" r="1.42" fill="#00ff00"/>
<circle cx="444.3" cy="137.6" r="1.42" fill="#00ff00"/>
<circle cx="434.9" cy="140.0" r="1.42" fill="#00ff00"/>
<circle cx="437.0" cy="140.0" r="1.42" fill="#00ff00"/>
<circle cx="439.5" cy="140.4" r="1.42" fill="#00ff00"/>
<circle cx="441.1" cy="141.5" r="1.42" fill="#00ff00"/>
<circle cx="443.5" cy="141.2" r="1.42" fill="#00ff00"/>
<circle cx="445.1" cy="139.7" r="1.42" fill="#00ff00"/>
<circle cx="435.7" cy="141.8" r="1.42" fill="#00ff00"/>
<circle cx="437.3" cy="143.4" r="1.42" fill="#00ff00"/>
<circle cx="441.5" cy="143.1" r="1.42" fill="#00ff00"/>
<circle cx="442.8" cy="143.9" r="1.42" fill="#00ff00"/>
<circle cx="445.3" cy="143.2" r="1.42" fill="#00ff00"/>
<circle cx="446.3" cy="144.2" r="1.42" fill="#00ff00"/>
<circle cx="449.7" cy="145.3" r="1.42" fill="#00ff00"/>
<circle cx="434.5" cy="145.8" r="1.42" fill="#00ff00"/>
<circle cx="439.6" cy="147.8" r="1.42" fill="#00ff00"/>
<circle cx="441.3" cy="147.4" r="1.42" fill="#00ff00"/>
<circle cx="443.6" cy="146.8" r="1.42" fill="#00ff00"/>
<circle cx="444.5" cy="149.0" r="1.42" fill="#00ff00"/>
<circle cx="434.8" cy="149.5" r="1.42" fill="#00ff00"/>
<circle cx="437.6" cy="150.7" r="1.42" fill="#00ff00"/>
<circle cx="442.6" cy="149.9" r="1.42" fill="#00ff00"/>
<circle cx="399.0" cy="94.0" r="1.42" fill="#00ff00"/>
<circle cx="410.5" cy="99.0" r="1.42" fill="#00ff00"/>
<circle cx="411.6" cy="101.2" r="1.42" fill="#00ff00"/>
<circle cx="413.8" cy="106.3" r="1.42" fill="#00ff00"/>
<circle cx="421.1" cy="107.2" r="1.42" fill="#00ff00"/>
<circle cx="398.2" cy="107.2" r="1.42" fill="#00ff00"/>
<circle cx="395.6" cy="148.4" r="1.42" fill="#00ff00"/>
<circle cx="396.9" cy="150.6" r="1.42" fill="#00ff00"/>
<circle cx="399.6" cy="149.7" r="1.42" fill="#00ff00"/>
<circle cx="401.7" cy="148.0" r="1.42" fill="#00ff00"/>
<circle cx="396.8" cy="153.5" r="1.42" fill="#00ff00"/>
<circle cx="397.7" cy="153.6" r="1.42" fill="#00ff00"/>
<circle cx="400.6" cy="153.1" r="1.42" fill="#00ff00"/>
<circle cx="403.0" cy="152.7" r="1.42" fill="#00ff00"/>
<circle cx="404.3" cy="150.8" r="1.42" fill="#00ff00"/>
<circle cx="397.8" cy="157.4" r="1.42" fill="#00ff00"/>
<circle cx="399.9" cy="158.2" r="1.42" fill="#00ff00"/>
<circle cx="401.3" cy="156.4" r="1.42" fill="#00ff00"/>
<circle cx="403.6" cy="154.5" r="1.42" fill="#00ff00"/>
<circle cx="404.6" cy="154.6" r="1.42" fill="#00ff00"/>
<circle cx="398.1" cy="161.2" r="1.42" fill="#00ff00"/>
<circle cx="400.4" cy="162.7" r="1.42" fill="#00ff00"/>
<circle cx="402.8" cy="160.4" r="1.42" fill="#00ff00"/>
<circle cx="404.3" cy="159.0" r="1.42" fill="#00ff00"/>
<circle cx="399.3" cy="163.8" r="1.42" fill="#00ff00"/>
<circle cx="401.3" cy="164.7" r="1.42" fill="#00ff00"/>
<circle cx="403.5" cy="163.9" r="1.42" fill="#00ff00"/>
<circle cx="405.0" cy="163.1" r="1.42" fill="#00ff00"/>
<circle cx="400.5" cy="167.4" r="1.42" fill="#00ff00"/>
<circle cx="402.6" cy="167.9" r="1.42" fill="#00ff00"/>
<circle cx="404.9" cy="166.9" r="1.42" fill="#00ff00"/>
<circle cx="399.9" cy="145.7" r="1.42" fill="#00ff00"/>
<circle cx="404.1" cy="146.3" r="1.42" fill="#00ff00"/>
<circle cx="402.3" cy="148.9" r="1.42" fill="#00ff00"/>
<circle cx="403.7" cy="149.1" r="1.42" fill="#00ff00"/>
<circle cx="449.9" cy="145.2" r="1.42" fill="#00ff00"/>
<circle cx="443.7" cy="150.2" r="1.42" fill="#00ff00"/>
<circle cx="440.0" cy="149.6" r="1.42" fill="#00ff00"/>
<circle cx="434.8" cy="154.1" r="1.42" fill="#00ff00"/>
<circle cx="434.4" cy="159.2" r="1.42" fill="#00ff00"/>
<circle cx="429.5" cy="162.2" r="1.42" fill="#00ff00"/>
<circle cx="411.9" cy="173.3" r="1.42" fill="#00ff00"/>
<circle cx="410.2" cy="167.6" r="1.42" fill="#00ff00"/>
<circle cx="427.7" cy="151.3" r="1.42" fill="#00ff00"/>
<circle cx="432.1" cy="150.7" r="1.42" fill="#00ff00"/>
<circle cx="406.1" cy="139.8" r="1.42" fill="#00ff00"/>
<circle cx="426.9" cy="140.6" r="1.42" fill="#00ff00"/>
<circle cx="429.5" cy="140.9" r="1.42" fill="#00ff00"/>
<circle cx="438.1" cy="140.4" r="1.42" fill="#00ff00"/>
<circle cx="441.1" cy="140.0" r="1.42" fill="#00ff00"/>
<circle cx="443.3" cy="140.5" r="1.42" fill="#00ff00"/>
<circle cx="401.9" cy="142.5" r="1.42" fill="#00ff00"/>
<circle cx="403.3" cy="142.3" r="1.42" fill="#00ff00"/>
<circle cx="406.7" cy="142.5" r="1.42" fill="#00ff00"/>
<circle cx="410.0" cy="142.2" r="1.42" fill="#00ff00"/>
<circle cx="411.1" cy="142.5" r="1.42" fill="#00ff00"/>
<circle cx="414.6" cy="143.0" r="1.42" fill="#00ff00"/>
<circle cx="416.1" cy="141.7" r="1.42" fill="#00ff00"/>
<circle cx="420.9" cy="141.9" r="1.42" fill="#00ff00"/>
<circle cx="422.7" cy="142.4" r="1.42" fill="#00ff00"/>
<circle cx="425.0" cy="141.3" r="1.42" fill="#00ff00"/>
<circle cx="427.1" cy="142.3" r="1.42" fill="#00ff00"/>
<circle cx="430.6" cy="142.2" r="1.42" fill="#00ff00"/>
<circle cx="438.9" cy="141.0" r="1.42" fill="#00ff00"/>
<circle cx="441.6" cy="142.6" r="1.42" fill="#00ff00"/>
<circle cx="442.7" cy="141.5" r="1.42" fill="#00ff00"/>
<circle cx="400.7" cy="144.8" r="1.42" fill="#00ff00"/>
<circle cx="402.0" cy="144.3" r="1.42" fill="#00ff00"/>
<circle cx="408.1" cy="144.9" r="1.42" fill="#00ff00"/>
<circle cx="408.2" cy="145.4" r="1.42" fill="#00ff00"/>
<circle cx="413.9" cy="144.3" r="1.42" fill="#00ff00"/>
<circle cx="416.0" cy="143.3" r="1.42" fill="#00ff00"/>
<circle cx="416.9" cy="144.9" r="1.42" fill="#00ff00"/>
<circle cx="419.4" cy="144.0" r="1.42" fill="#00ff00"/>
<circle cx="425.9" cy="144.8" r="1.42" fill="#00ff00"/>
<circle cx="429.5" cy="145.1" r="1.42" fill="#00ff00"/>
<circle cx="430.8" cy="145.3" r="1.42" fill="#00ff00"/>
<circle cx="433.7" cy="145.3" r="1.42" fill="#00ff00"/>
<circle cx="439.5" cy="144.1" r="1.42" fill="#00ff00"/>
<circle cx="441.4" cy="145.5" r="1.42" fill="#00ff00"/>
<circle cx="443.7" cy="144.4" r="1.42" fill="#00ff00"/>
<circle cx="402.5" cy="145.7" r="1.42" fill="#00ff00"/>
<circle cx="405.0" cy="146.2" r="1.42" fill="#00ff00"/>
<circle cx="406.2" cy="146.4" r="1.42" fill="#00ff00"/>
<circle cx="412.3" cy="147.4" r="1.42" fill="#00ff00"/>
<circle cx="413.6" cy="147.0" r="1.42" fill="#00ff00"/>
<circle cx="419.2" cy="146.2" r="1.42" fill="#00ff00"/>
<circle cx="421.7" cy="146.8" r="1.42" fill="#00ff00"/>
<circle cx="423.8" cy="147.7" r="1.42" fill="#00ff00"/>
<circle cx="425.6" cy="146.1" r="1.42" fill="#00ff00"/>
<circle cx="432.6" cy="146.5" r="1.42" fill="#00ff00"/>
<circle cx="439.4" cy="146.6" r="1.42" fill="#00ff00"/>
<circle cx="401.0" cy="149.7" r="1.42" fill="#00ff00"/>
<circle cx="402.4" cy="149.2" r="1.42" fill="#00ff00"/>
<circle cx="405.4" cy="148.2" r="1.42" fill="#00ff00"/>
<circle cx="406.4" cy="149.9" r="1.42" fill="#00ff00"/>
<circle cx="412.0" cy="149.8" r="1.42" fill="#00ff00"/>
<circle cx="414.2" cy="149.5" r="1.42" fill="#00ff00"/>
<circle cx="416.4" cy="148.4" r="1.42" fill="#00ff00"/>
<circle cx="419.2" cy="148.8" r="1.42" fill="#00ff00"/>
<circle cx="421.1" cy="150.0" r="1.42" fill="#00ff00"/>
<circle cx="422.9" cy="149.9" r="1.42" fill="#00ff00"/>
<circle cx="424.5" cy="149.5" r="1.42" fill="#00ff00"/>
<circle cx="427.8" cy="149.9" r="1.42" fill="#00ff00"/>
<circle cx="432.0" cy="148.8" r="1.42" fill="#00ff00"/>
<circle cx="434.0" cy="150.2" r="1.42" fill="#00ff00"/>
<circle cx="401.7" cy="151.4" r="1.42" fill="#00ff00"/>
<circle cx="406.7" cy="151.6" r="1.42" fill="#00ff00"/>
<circle cx="411.1" cy="152.2" r="1.42" fill="#00ff00"/>
<circle cx="415.4" cy="150.8" r="1.42" fill="#00ff00"/>
<circle cx="423.2" cy="150.0" r="1.42" fill="#00ff00"/>
<circle cx="425.5" cy="152.1" r="1.42" fill="#00ff00"/>
<circle cx="429.7" cy="151.3" r="1.42" fill="#00ff00"/>
<circle cx="403.5" cy="154.6" r="1.42" fill="#00ff00"/>
<circle cx="407.3" cy="154.2" r="1.42" fill="#00ff00"/>
<circle cx="409.6" cy="154.5" r="1.42" fill="#00ff00"/>
<circle cx="410.8" cy="154.0" r="1.42" fill="#00ff00"/>
<circle cx="413.6" cy="153.9" r="1.42" fill="#00ff00"/>
<circle cx="415.2" cy="153.9" r="1.42" fill="#00ff00"/>
<circle cx="418.5" cy="153.5" r="1.42" fill="#00ff00"/>
<circle cx="420.6" cy="153.6" r="1.42" fill="#00ff00"/>
<circle cx="422.1" cy="152.8" r="1.42" fill="#00ff00"/>
<circle cx="425.2" cy="152.8" r="1.42" fill="#00ff00"/>
<circle cx="405.2" cy="156.3" r="1.42" fill="#00ff00"/>
<circle cx="406.7" cy="156.4" r="1.42" fill="#00ff00"/>
<circle cx="411.9" cy="156.5" r="1.42" fill="#00ff00"/>
<circle cx="415.6" cy="155.5" r="1.42" fill="#00ff00"/>
<circle cx="418.3" cy="156.0" r="1.42" fill="#00ff00"/>
<circle cx="422.5" cy="155.4" r="1.42" fill="#00ff00"/>
<circle cx="424.4" cy="156.3" r="1.42" fill="#00ff00"/>
<circle cx="428.1" cy="157.1" r="1.42" fill="#00ff00"/>
<circle cx="405.6" cy="158.1" r="1.42" fill="#00ff00"/>
<circle cx="406.0" cy="157.1" r="1.42" fill="#00ff00"/>
<circle cx="408.5" cy="159.4" r="1.42" fill="#00ff00"/>
<circle cx="411.1" cy="159.2" r="1.42" fill="#00ff00"/>
<circle cx="413.7" cy="157.0" r="1.42" fill="#00ff00"/>
<circle cx="416.5" cy="158.0" r="1.42" fill="#00ff00"/>
<circle cx="420.7" cy="157.1" r="1.42" fill="#00ff00"/>
<circle cx="423.6" cy="158.1" r="1.42" fill="#00ff00"/>
<circle cx="426.4" cy="158.9" r="1.42" fill="#00ff00"/>
<circle cx="400.6" cy="160.0" r="1.42" fill="#00ff00"/>
<circle cx="401.1" cy="161.8" r="1.42" fill="#00ff00"/>
<circle cx="406.1" cy="162.2" r="1.42" fill="#00ff00"/>
<circle cx="409.3" cy="160.1" r="1.42" fill="#00ff00"/>
<circle cx="412.6" cy="159.8" r="1.42" fill="#00ff00"/>
<circle cx="414.8" cy="160.6" r="1.42" fill="#00ff00"/>
<circle cx="419.4" cy="161.6" r="1.42" fill="#00ff00"/>
<circle cx="420.9" cy="161.0" r="1.42" fill="#00ff00"/>
<circle cx="422.4" cy="160.7" r="1.42" fill="#00ff00"/>
<circle cx="424.3" cy="160.2" r="1.42" fill="#00ff00"/>
<circle cx="401.4" cy="164.2" r="1.42" fill="#00ff00"/>
<circle cx="404.0" cy="163.5" r="1.42" fill="#00ff00"/>
<circle cx="412.0" cy="163.2" r="1.42" fill="#00ff00"/>
<circle cx="413.0" cy="162.8" r="1.42" fill="#00ff00"/>
<circle cx="416.7" cy="163.7" r="1.42" fill="#00ff00"/>
<circle cx="417.4" cy="163.2" r="1.42" fill="#00ff00"/>
<circle cx="420.6" cy="162.6" r="1.42" fill="#00ff00"/>
<circle cx="423.9" cy="163.6" r="1.42" fill="#00ff00"/>
<circle cx="425.8" cy="162.4" r="1.42" fill="#00ff00"/>
<circle cx="401.3" cy="166.0" r="1.42" fill="#00ff00"/>
<circle cx="404.1" cy="164.4" r="1.42" fill="#00ff00"/>
<circle cx="407.4" cy="164.3" r="1.42" fill="#00ff00"/>
<circle cx="410.0" cy="165.4" r="1.42" fill="#00ff00"/>
<circle cx="411.4" cy="164.4" r="1.42" fill="#00ff00"/>
<circle cx="416.9" cy="164.7" r="1.42" fill="#00ff00"/>
<circle cx="418.5" cy="166.0" r="1.42" fill="#00ff00"/>
<circle cx="420.8" cy="164.3" r="1.42" fill="#00ff00"/>
<circle cx="425.8" cy="164.6" r="1.42" fill="#00ff00"/>
<circle cx="400.4" cy="167.2" r="1.42" fill="#00ff00"/>
<circle cx="402.4" cy="167.5" r="1.42" fill="#00ff00"/>
<circle cx="403.6" cy="168.4" r="1.42" fill="#00ff00"/>
<circle cx="409.9" cy="167.8" r="1.42" fill="#00ff00"/>
<circle cx="413.6" cy="167.0" r="1.42" fill="#00ff00"/>
<circle cx="415.4" cy="167.8" r="1.42" fill="#00ff00"/>
<circle cx="420.7" cy="166.3" r="1.42" fill="#00ff00"/>
<circle cx="401.5" cy="168.8" r="1.42" fill="#00ff00"/>
<circle cx="420.1" cy="169.0" r="1.42" fill="#00ff00"/>
<circle cx="366.8" cy="99.3" r="1.42" fill="#ff0000"/>
<circle cx="374.8" cy="100.9" r="1.42" fill="#ff0000"/>
<circle cx="367.7" cy="100.4" r="1.42" fill="#ff0000"/>
<circle cx="374.6" cy="101.4" r="1.42" fill="#ff0000"/>
<circle cx="384.4" cy="110.1" r="1.42" fill="#ff0000"/>
<circle cx="384.1" cy="114.7" r="1.42" fill="#ff0000"/>
<circle cx="361.2" cy="118.1" r="1.42" fill="#ff0000"/>
<circle cx="371.7" cy="118.1" r="1.42" fill="#ff0000"/>
<circle cx="375.5" cy="121.2" r="1.42" fill="#ff0000"/>
<circle cx="377.9" cy="121.7" r="1.42" fill="#ff0000"/>
<circle cx="384.2" cy="124.8" r="1.42" fill="#ff0000"/>
<circle cx="364.7" cy="123.7" r="1.42" fill="#ff0000"/>
<circle cx="365.1" cy="123.1" r="1.42" fill="#ff0000"/>
<circle cx="365.7" cy="127.5" r="1.42" fill="#ff0000"/>
<circle cx="384.9" cy="128.1" r="1.42" fill="#ff0000"/>
<circle cx="389.9" cy="130.3" r="1.42" fill="#ff0000"/>
<circle cx="372.9" cy="129.0" r="1.42" fill="#ff0000"/>
<circle cx="371.8" cy="130.8" r="1.42" fill="#ff0000"/>
<circle cx="373.7" cy="127.7" r="1.42" fill="#ff0000"/>
<circle cx="377.2" cy="129.1" r="1.42" fill="#ff0000"/>
<circle cx="373.1" cy="135.8" r="1.42" fill="#ff0000"/>
<circle cx="381.9" cy="133.5" r="1.42" fill="#ff0000"/>
<circle cx="384.5" cy="132.9" r="1.42" fill="#ff0000"/>
<circle cx="380.4" cy="136.1" r="1.42" fill="#ff0000"/>
<circle cx="382.5" cy="137.7" r="1.42" fill="#ff0000"/>
<circle cx="384.9" cy="138.7" r="1.42" fill="#ff0000"/>
<circle cx="389.2" cy="137.4" r="1.42" fill="#ff0000"/>
<circle cx="390.6" cy="137.8" r="1.42" fill="#ff0000"/>
<circle cx="367.9" cy="139.5" r="1.42" fill="#ff0000"/>
<circle cx="369.1" cy="144.2" r="1.42" fill="#ff0000"/>
<circle cx="370.9" cy="145.9" r="1.42" fill="#ff0000"/>
<circle cx="375.9" cy="143.0" r="1.42" fill="#ff0000"/>
<circle cx="376.2" cy="144.9" r="1.42" fill="#ff0000"/>
<circle cx="377.9" cy="145.0" r="1.42" fill="#ff0000"/>
<circle cx="380.6" cy="144.4" r="1.42" fill="#ff0000"/>
<circle cx="382.8" cy="146.2" r="1.42" fill="#ff0000"/>
<circle cx="382.7" cy="146.7" r="1.42" fill="#ff0000"/>
<circle cx="383.6" cy="144.4" r="1.42" fill="#ff0000"/>
<circle cx="386.4" cy="145.3" r="1.42" fill="#ff0000"/>
<circle cx="387.6" cy="147.1" r="1.42" fill="#ff0000"/>
<circle cx="389.0" cy="146.9" r="1.42" fill="#ff0000"/>
<circle cx="391.7" cy="144.4" r="1.42" fill="#ff0000"/>
<circle cx="365.3" cy="148.8" r="1.42" fill="#ff0000"/>
<circle cx="376.5" cy="148.6" r="1.42" fill="#ff0000"/>
<circle cx="380.9" cy="148.7" r="1.42" fill="#ff0000"/>
<circle cx="381.9" cy="151.1" r="1.42" fill="#ff0000"/>
<circle cx="386.6" cy="150.4" r="1.42" fill="#ff0000"/>
<circle cx="389.9" cy="151.8" r="1.42" fill="#ff0000"/>
<circle cx="391.8" cy="149.3" r="1.42" fill="#ff0000"/>
<circle cx="384.6" cy="109.8" r="1.42" fill="#ff0000"/>
<circle cx="389.5" cy="115.7" r="1.42" fill="#ff0000"/>
<circle cx="384.7" cy="115.5" r="1.42" fill="#ff0000"/>
<circle cx="386.7" cy="123.5" r="1.42" fill="#ff0000"/>
<circle cx="385.9" cy="128.2" r="1.42" fill="#ff0000"/>
<circle cx="388.2" cy="128.0" r="1.42" fill="#ff0000"/>
<circle cx="389.2" cy="131.4" r="1.42" fill="#ff0000"/>
<circle cx="390.7" cy="128.1" r="1.42" fill="#ff0000"/>
<circle cx="385.2" cy="131.9" r="1.42" fill="#ff0000"/>
<circle cx="389.0" cy="137.7" r="1.42" fill="#ff0000"/>
<circle cx="385.0" cy="138.8" r="1.42" fill="#ff0000"/>
<circle cx="385.8" cy="141.0" r="1.42" fill="#ff0000"/>
<circle cx="387.6" cy="142.1" r="1.42" fill="#ff0000"/>
<circle cx="389.5" cy="143.4" r="1.42" fill="#ff0000"/>
<circle cx="391.8" cy="143.1" r="1.42" fill="#ff0000"/>
<circle cx="392.9" cy="141.8" r="1.42" fill="#ff0000"/>
<circle cx="392.5" cy="140.9" r="1.42" fill="#ff0000"/>
<circle cx="384.6" cy="144.8" r="1.42" fill="#ff0000"/>
<circle cx="388.0" cy="146.9" r="1.42" fill="#ff0000"/>
<circle cx="392.7" cy="148.0" r="1.42" fill="#ff0000"/>
<circle cx="393.4" cy="148.9" r="1.42" fill="#ff0000"/>
<circle cx="387.6" cy="150.3" r="1.42" fill="#ff0000"/>
<circle cx="391.3" cy="150.4" r="1.42" fill="#ff0000"/>
<circle cx="384.7" cy="150.7" r="1.42" fill="#ff0000"/>
<circle cx="388.4" cy="151.6" r="1.42" fill="#ff0000"/>
<circle cx="365.0" cy="149.3" r="1.42" fill="#ff0000"/>
<circle cx="373.4" cy="147.7" r="1.42" fill="#ff0000"/>
<circle cx="376.4" cy="148.6" r="1.42" fill="#ff0000"/>
<circle cx="377.9" cy="145.9" r="1.42" fill="#ff0000"/>
<circle cx="379.6" cy="146.6" r="1.42" fill="#ff0000"/>
<circle cx="382.6" cy="148.0" r="1.42" fill="#ff0000"/>
<circle cx="383.8" cy="146.4" r="1.42" fill="#ff0000"/>
<circle cx="386.8" cy="147.7" r="1.42" fill="#ff0000"/>
<circle cx="388.5" cy="146.5" r="1.42" fill="#ff0000"/>
<circle cx="386.9" cy="149.7" r="1.42" fill="#ff0000"/>
<circle cx="383.2" cy="149.5" r="1.42" fill="#ff0000"/>
<circle cx="380.0" cy="151.5" r="1.42" fill="#ff0000"/>
<circle cx="377.1" cy="153.4" r="1.42" fill="#ff0000"/>
<circle cx="379.5" cy="155.6" r="1.42" fill="#ff0000"/>
<circle cx="381.1" cy="154.3" r="1.42" fill="#ff0000"/>
<circle cx="382.6" cy="153.3" r="1.42" fill="#ff0000"/>
<circle cx="385.1" cy="152.0" r="1.42" fill="#ff0000"/>
<circle cx="384.6" cy="155.6" r="1.42" fill="#ff0000"/>
<circle cx="386.6" cy="156.6" r="1.42" fill="#ff0000"/>
<circle cx="387.8" cy="155.3" r="1.42" fill="#ff0000"/>
<circle cx="390.1" cy="155.8" r="1.42" fill="#ff0000"/>
<circle cx="391.1" cy="157.0" r="1.42" fill="#ff0000"/>
<circle cx="380.5" cy="160.1" r="1.42" fill="#ff0000"/>
<circle cx="381.6" cy="161.7" r="1.42" fill="#ff0000"/>
<circle cx="384.8" cy="160.8" r="1.42" fill="#ff0000"/>
<circle cx="384.3" cy="158.1" r="1.42" fill="#ff0000"/>
<circle cx="385.7" cy="159.0" r="1.42" fill="#ff0000"/>
<circle cx="388.8" cy="159.6" r="1.42" fill="#ff0000"/>
<circle cx="389.1" cy="161.2" r="1.42" fill="#ff0000"/>
<circle cx="391.7" cy="163.7" r="1.42" fill="#ff0000"/>
<circle cx="392.3" cy="162.2" r="1.42" fill="#ff0000"/>
<circle cx="394.5" cy="161.7" r="1.42" fill="#ff0000"/>
<circle cx="396.4" cy="162.8" r="1.42" fill="#ff0000"/>
<circle cx="397.8" cy="164.1" r="1.42" fill="#ff0000"/>
<circle cx="392.8" cy="165.7" r="1.42" fill="#ff0000"/>
<circle cx="394.5" cy="166.7" r="1.42" fill="#ff0000"/>
<circle cx="395.8" cy="165.7" r="1.42" fill="#ff0000"/>
<circle cx="393.7" cy="149.2" r="1.42" fill="#ff0000"/>
<circle cx="392.5" cy="150.9" r="1.42" fill="#ff0000"/>
<circle cx="394.5" cy="152.7" r="1.42" fill="#ff0000"/>
<circle cx="394.4" cy="172.3" r="1.42" fill="#ff0000"/>
<circle cx="396.2" cy="172.6" r="1.42" fill="#ff0000"/>
<circle cx="398.5" cy="172.8" r="1.42" fill="#ff0000"/>
<circle cx="401.4" cy="172.8" r="1.42" fill="#ff0000"/>
<circle cx="404.0" cy="175.6" r="1.42" fill="#ff0000"/>
<circle cx="400.4" cy="175.9" r="1.42" fill="#ff0000"/>
<circle cx="393.8" cy="147.3" r="1.42" fill="#ff0000"/>
<circle cx="401.8" cy="172.2" r="1.42" fill="#ff0000"/>
<circle cx="400.3" cy="175.1" r="1.42" fill="#ff0000"/>
<circle cx="404.4" cy="176.6" r="1.42" fill="#ff0000"/>
<circle cx="388.1" cy="156.4" r="1.42" fill="#ff0000"/>
<circle cx="391.2" cy="158.8" r="1.42" fill="#ff0000"/>
<circle cx="393.9" cy="160.7" r="1.42" fill="#ff0000"/>
<circle cx="396.7" cy="164.4" r="1.42" fill="#ff0000"/>
<circle cx="391.4" cy="164.7" r="1.42" fill="#ff0000"/>
<circle cx="394.5" cy="165.9" r="1.42" fill="#ff0000"/>
<circle cx="396.1" cy="167.1" r="1.42" fill="#ff0000"/>
<circle cx="389.9" cy="161.9" r="1.42" fill="#ff0000"/>
<circle cx="387.0" cy="160.7" r="1.42" fill="#ff0000"/>
<circle cx="397.8" cy="167.4" r="1.42" fill="#ff0000"/>
<circle cx="394.6" cy="169.8" r="1.42" fill="#ff0000"/>
<circle cx="396.3" cy="172.5" r="1.42" fill="#ff0000"/>
<circle cx="397.8" cy="173.6" r="1.42" fill="#ff0000"/>
<circle cx="400.5" cy="174.4" r="1.42" fill="#ff0000"/>
<circle cx="401.5" cy="172.9" r="1.42" fill="#ff0000"/>
<circle cx="404.7" cy="176.7" r="1.42" fill="#ff0000"/>
<circle cx="381.9" cy="154.2" r="1.42" fill="#ff0000"/>
<circle cx="378.9" cy="155.7" r="1.42" fill="#ff0000"/>
<circle cx="382.8" cy="159.7" r="1.42" fill="#ff0000"/>
<circle cx="378.7" cy="152.3" r="1.42" fill="#ff0000"/>
<circle cx="375.3" cy="148.6" r="1.42" fill="#ff0000"/>
<circle cx="437.3" cy="116.6" r="1.42" fill="#0000ff"/>
<circle cx="439.1" cy="124.9" r="1.42" fill="#0000ff"/>
<circle cx="446.4" cy="100.3" r="1.42" fill="#0000ff"/>
<circle cx="448.5" cy="102.1" r="1.42" fill="#0000ff"/>
<circle cx="454.4" cy="101.6" r="1.42" fill="#0000ff"/>
<circle cx="457.5" cy="101.0" r="1.42" fill="#0000ff"/>
<circle cx="459.6" cy="100.7" r="1.42" fill="#0000ff"/>
<circle cx="462.9" cy="101.2" r="1.42" fill="#0000ff"/>
<circle cx="465.1" cy="101.4" r="1.42" fill="#0000ff"/>
<circle cx="470.3" cy="102.6" r="1.42" fill="#0000ff"/>
<circle cx="472.6" cy="103.3" r="1.42" fill="#0000ff"/>
<circle cx="482.9" cy="101.9" r="1.42" fill="#0000ff"/>
<circle cx="484.9" cy="101.0" r="1.42" fill="#0000ff"/>
<circle cx="447.8" cy="106.0" r="1.42" fill="#0000ff"/>
<circle cx="453.5" cy="103.7" r="1.42" fill="#0000ff"/>
<circle cx="455.9" cy="104.6" r="1.42" fill="#0000ff"/>
<circle cx="459.4" cy="102.9" r="1.42" fill="#0000ff"/>
<circle cx="460.7" cy="103.2" r="1.42" fill="#0000ff"/>
<circle cx="464.6" cy="104.1" r="1.42" fill="#0000ff"/>
<circle cx="466.8" cy="104.4" r="1.42" fill="#0000ff"/>
<circle cx="467.8" cy="103.8" r="1.42" fill="#0000ff"/>
<circle cx="469.7" cy="105.2" r="1.42" fill="#0000ff"/>
<circle cx="471.2" cy="104.5" r="1.42" fill="#0000ff"/>
<circle cx="473.2" cy="105.3" r="1.42" fill="#0000ff"/>
<circle cx="472.7" cy="108.4" r="1.42" fill="#0000ff"/>
<circle cx="455.2" cy="109.1" r="1.42" fill="#0000ff"/>
<circle cx="456.8" cy="110.6" r="1.42" fill="#0000ff"/>
<circle cx="458.2" cy="109.8" r="1.42" fill="#0000ff"/>
<circle cx="457.4" cy="112.8" r="1.42" fill="#0000ff"/>
<circle cx="462.5" cy="112.8" r="1.42" fill="#0000ff"/>
<circle cx="464.7" cy="111.7" r="1.42" fill="#0000ff"/>
<circle cx="465.1" cy="114.2" r="1.42" fill="#0000ff"/>
<circle cx="459.9" cy="115.5" r="1.42" fill="#0000ff"/>
<circle cx="461.8" cy="114.2" r="1.42" fill="#0000ff"/>
<circle cx="463.0" cy="114.7" r="1.42" fill="#0000ff"/>
<circle cx="467.8" cy="116.1" r="1.42" fill="#0000ff"/>
<circle cx="468.8" cy="113.9" r="1.42" fill="#0000ff"/>
<circle cx="471.0" cy="114.0" r="1.42" fill="#0000ff"/>
<circle cx="473.1" cy="114.6" r="1.42" fill="#0000ff"/>
<circle cx="450.2" cy="113.3" r="1.42" fill="#0000ff"/>
<circle cx="453.8" cy="117.1" r="1.42" fill="#0000ff"/>
<circle cx="436.3" cy="117.0" r="1.42" fill="#0000ff"/>
<circle cx="442.1" cy="116.4" r="1.42" fill="#0000ff"/>
<circle cx="444.3" cy="114.5" r="1.42" fill="#0000ff"/>
<circle cx="443.0" cy="121.4" r="1.42" fill="#0000ff"/>
<circle cx="444.9" cy="123.1" r="1.42" fill="#0000ff"/>
<circle cx="447.5" cy="122.8" r="1.42" fill="#0000ff"/>
<circle cx="448.6" cy="123.8" r="1.42" fill="#0000ff"/>
<circle cx="451.4" cy="123.8" r="1.42" fill="#0000ff"/>
<circle cx="452.4" cy="123.4" r="1.42" fill="#0000ff"/>
<circle cx="441.4" cy="125.2" r="1.42" fill="#0000ff"/>
<circle cx="443.0" cy="125.5" r="1.42" fill="#0000ff"/>
<circle cx="443.8" cy="126.3" r="1.42" fill="#0000ff"/>
<circle cx="445.7" cy="127.1" r="1.42" fill="#0000ff"/>
<circle cx="447.6" cy="127.4" r="1.42" fill="#0000ff"/>
<circle cx="444.2" cy="129.9" r="1.42" fill="#0000ff"/>
<circle cx="446.9" cy="129.9" r="1.42" fill="#0000ff"/>
<circle cx="448.6" cy="130.3" r="1.42" fill="#0000ff"/>
<circle cx="456.8" cy="125.0" r="1.42" fill="#0000ff"/>
<circle cx="460.7" cy="124.0" r="1.42" fill="#0000ff"/>
<circle cx="462.5" cy="124.1" r="1.42" fill="#0000ff"/>
<circle cx="460.0" cy="129.1" r="1.42" fill="#0000ff"/>
<circle cx="458.8" cy="132.6" r="1.42" fill="#0000ff"/>
<circle cx="460.1" cy="133.4" r="1.42" fill="#0000ff"/>
<circle cx="445.2" cy="133.1" r="1.42" fill="#0000ff"/>
<circle cx="447.5" cy="134.7" r="1.42" fill="#0000ff"/>
<circle cx="449.9" cy="135.3" r="1.42" fill="#0000ff"/>
<circle cx="451.1" cy="135.8" r="1.42" fill="#0000ff"/>
<circle cx="452.7" cy="136.1" r="1.42" fill="#0000ff"/>
<circle cx="455.0" cy="136.7" r="1.42" fill="#0000ff"/>
<circle cx="456.5" cy="137.6" r="1.42" fill="#0000ff"/>
<circle cx="449.6" cy="138.7" r="1.42" fill="#0000ff"/>
<circle cx="447.6" cy="138.2" r="1.42" fill="#0000ff"/>
<circle cx="449.4" cy="140.3" r="1.42" fill="#0000ff"/>
<circle cx="490.5" cy="52.3" r="1.42" fill="#0000ff"/>
<circle cx="489.9" cy="63.9" r="1.42" fill="#0000ff"/>
<circle cx="494.0" cy="65.2" r="1.42" fill="#0000ff"/>
<circle cx="492.5" cy="68.9" r="1.42" fill="#0000ff"/>
<circle cx="486.9" cy="72.0" r="1.42" fill="#0000ff"/>
<circle cx="488.4" cy="72.5" r="1.42" fill="#0000ff"/>
<circle cx="456.3" cy="69.1" r="1.42" fill="#0000ff"/>
<circle cx="464.8" cy="69.5" r="1.42" fill="#0000ff"/>
<circle cx="466.0" cy="68.3" r="1.42" fill="#0000ff"/>
<circle cx="464.8" cy="71.6" r="1.42" fill="#0000ff"/>
<circle cx="459.8" cy="71.7" r="1.42" fill="#0000ff"/>
<circle cx="460.6" cy="74.1" r="1.42" fill="#0000ff"/>
<circle cx="461.6" cy="75.6" r="1.42" fill="#0000ff"/>
<circle cx="443.7" cy="74.4" r="1.42" fill="#0000ff"/>
<circle cx="445.0" cy="75.9" r="1.42" fill="#0000ff"/>
<circle cx="446.4" cy="80.7" r="1.42" fill="#0000ff"/>
<circle cx="465.8" cy="81.3" r="1.42" fill="#0000ff"/>
<circle cx="467.9" cy="81.0" r="1.42" fill="#0000ff"/>
<circle cx="470.7" cy="79.9" r="1.42" fill="#0000ff"/>
<circle cx="472.1" cy="83.3" r="1.42" fill="#0000ff"/>
<circle cx="475.1" cy="79.7" r="1.42" fill="#0000ff"/>
<circle cx="477.3" cy="77.5" r="1.42" fill="#0000ff"/>
<circle cx="478.2" cy="80.2" r="1.42" fill="#0000ff"/>
<circle cx="479.8" cy="82.8" r="1.42" fill="#0000ff"/>
<circle cx="481.7" cy="85.4" r="1.42" fill="#0000ff"/>
<circle cx="456.9" cy="82.1" r="1.42" fill="#0000ff"/>
<circle cx="453.2" cy="84.2" r="1.42" fill="#0000ff"/>
<circle cx="460.2" cy="85.0" r="1.42" fill="#0000ff"/>
<circle cx="460.7" cy="85.7" r="1.42" fill="#0000ff"/>
<circle cx="463.7" cy="87.0" r="1.42" fill="#0000ff"/>
<circle cx="458.4" cy="88.1" r="1.42" fill="#0000ff"/>
<circle cx="457.6" cy="89.9" r="1.42" fill="#0000ff"/>
<circle cx="456.7" cy="91.3" r="1.42" fill="#0000ff"/>
<circle cx="457.3" cy="92.5" r="1.42" fill="#0000ff"/>
<circle cx="451.4" cy="94.3" r="1.42" fill="#0000ff"/>
<circle cx="455.1" cy="95.8" r="1.42" fill="#0000ff"/>
<circle cx="457.3" cy="96.0" r="1.42" fill="#0000ff"/>
<circle cx="457.9" cy="97.0" r="1.42" fill="#0000ff"/>
<circle cx="461.9" cy="98.8" r="1.42" fill="#0000ff"/>
<circle cx="463.7" cy="99.6" r="1.42" fill="#0000ff"/>
<circle cx="466.3" cy="98.0" r="1.42" fill="#0000ff"/>
<circle cx="473.2" cy="91.2" r="1.42" fill="#0000ff"/>
<circle cx="471.6" cy="96.7" r="1.42" fill="#0000ff"/>
<circle cx="472.6" cy="98.3" r="1.42" fill="#0000ff"/>
<circle cx="474.1" cy="99.8" r="1.42" fill="#0000ff"/>
<circle cx="443.8" cy="99.0" r="1.42" fill="#0000ff"/>
<circle cx="446.4" cy="100.6" r="1.42" fill="#0000ff"/>
<circle cx="447.9" cy="102.3" r="1.42" fill="#0000ff"/>
<circle cx="454.0" cy="99.4" r="1.42" fill="#0000ff"/>
<circle cx="455.7" cy="100.5" r="1.42" fill="#0000ff"/>
<circle cx="457.6" cy="101.7" r="1.42" fill="#0000ff"/>
<circle cx="459.5" cy="100.0" r="1.42" fill="#0000ff"/>
<circle cx="463.2" cy="101.5" r="1.42" fill="#0000ff"/>
<circle cx="468.0" cy="101.9" r="1.42" fill="#0000ff"/>
<circle cx="470.7" cy="101.2" r="1.42" fill="#0000ff"/>
<circle cx="472.0" cy="102.0" r="1.42" fill="#0000ff"/>
<circle cx="485.0" cy="99.9" r="1.42" fill="#0000ff"/>
<circle cx="492.8" cy="84.2" r="1.42" fill="#0000ff"/>
<circle cx="490.9" cy="88.9" r="1.42" fill="#0000ff"/>
<circle cx="436.8" cy="90.8" r="1.42" fill="#0000ff"/>
<circle cx="449.3" cy="140.3" r="1.42" fill="#0000ff"/>
<circle cx="350.1" cy="62.1" r="1.42" fill="#000000"/>
<circle cx="354.8" cy="80.9" r="1.42" fill="#000000"/>
<circle cx="356.4" cy="88.1" r="1.42" fill="#000000"/>
<circle cx="357.3" cy="89.3" r="1.42" fill="#000000"/>
<circle cx="356.9" cy="95.0" r="1.42" fill="#000000"/>
<circle cx="351.2" cy="97.9" r="1.42" fill="#000000"/>
<circle cx="354.8" cy="100.1" r="1.42" fill="#000000"/>
<circle cx="355.1" cy="99.4" r="1.42" fill="#000000"/>
<circle cx="354.9" cy="101.4" r="1.42" fill="#000000"/>
<circle cx="357.1" cy="101.0" r="1.42" fill="#000000"/>
<circle cx="359.7" cy="104.5" r="1.42" fill="#000000"/>
<circle cx="356.3" cy="97.6" r="1.42" fill="#000000"/>
<circle cx="354.7" cy="100.9" r="1.42" fill="#000000"/>
<circle cx="356.5" cy="100.6" r="1.42" fill="#000000"/>
<circle cx="359.1" cy="104.1" r="1.42" fill="#000000"/>
<circle cx="359.1" cy="111.9" r="1.42" fill="#000000"/>
<circle cx="361.8" cy="145.4" r="2.2" fill="#ff2a2a" stroke="#707070" stroke-width="0.9"/>
<circle cx="363.4" cy="143.8" r="1.5" fill="#ff0000"/>
<text x="351.50" y="149.20" font-family="'Liberation Sans', Arial, sans-serif" font-size="9.7" fill="#000" stroke="#000" stroke-width="0.12" text-anchor="middle" font-weight="normal">244</text>
<circle cx="325.2" cy="352.6" r="1.42" fill="#00ff00"/>
<circle cx="312.2" cy="357.8" r="1.42" fill="#00ff00"/>
<circle cx="309.6" cy="365.5" r="1.42" fill="#00ff00"/>
<circle cx="325.1" cy="367.2" r="1.42" fill="#00ff00"/>
<circle cx="342.0" cy="369.4" r="1.42" fill="#00ff00"/>
<circle cx="353.0" cy="360.3" r="1.42" fill="#00ff00"/>
<circle cx="342.0" cy="369.0" r="1.42" fill="#00ff00"/>
<circle cx="335.4" cy="375.3" r="1.42" fill="#00ff00"/>
<circle cx="329.2" cy="377.8" r="1.42" fill="#00ff00"/>
<circle cx="310.3" cy="381.1" r="1.42" fill="#00ff00"/>
<circle cx="311.9" cy="381.5" r="1.42" fill="#00ff00"/>
<circle cx="323.6" cy="380.6" r="1.42" fill="#00ff00"/>
<circle cx="321.8" cy="384.2" r="1.42" fill="#00ff00"/>
<circle cx="326.8" cy="383.4" r="1.42" fill="#00ff00"/>
<circle cx="343.2" cy="383.9" r="1.42" fill="#00ff00"/>
<circle cx="351.0" cy="382.1" r="1.42" fill="#00ff00"/>
<circle cx="353.4" cy="382.5" r="1.42" fill="#00ff00"/>
<circle cx="310.8" cy="385.2" r="1.42" fill="#00ff00"/>
<circle cx="313.1" cy="386.1" r="1.42" fill="#00ff00"/>
<circle cx="311.3" cy="389.3" r="1.42" fill="#00ff00"/>
<circle cx="319.2" cy="389.9" r="1.42" fill="#00ff00"/>
<circle cx="328.6" cy="389.7" r="1.42" fill="#00ff00"/>
<circle cx="334.6" cy="388.5" r="1.42" fill="#00ff00"/>
<circle cx="337.5" cy="389.5" r="1.42" fill="#00ff00"/>
<circle cx="339.2" cy="388.3" r="1.42" fill="#00ff00"/>
<circle cx="338.1" cy="392.1" r="1.42" fill="#00ff00"/>
<circle cx="351.4" cy="390.3" r="1.42" fill="#00ff00"/>
<circle cx="353.9" cy="388.8" r="1.42" fill="#00ff00"/>
<circle cx="324.1" cy="394.3" r="1.42" fill="#00ff00"/>
<circle cx="329.7" cy="394.6" r="1.42" fill="#00ff00"/>
<circle cx="332.8" cy="395.7" r="1.42" fill="#00ff00"/>
<circle cx="344.3" cy="394.2" r="1.42" fill="#00ff00"/>
<circle cx="322.8" cy="396.3" r="1.42" fill="#00ff00"/>
<circle cx="345.9" cy="397.2" r="1.42" fill="#00ff00"/>
<circle cx="347.6" cy="397.9" r="1.42" fill="#00ff00"/>
<circle cx="353.1" cy="360.2" r="1.42" fill="#00ff00"/>
<circle cx="362.0" cy="358.6" r="1.42" fill="#00ff00"/>
<circle cx="358.5" cy="378.5" r="1.42" fill="#00ff00"/>
<circle cx="350.5" cy="381.5" r="1.42" fill="#00ff00"/>
<circle cx="353.3" cy="381.7" r="1.42" fill="#00ff00"/>
<circle cx="359.4" cy="377.7" r="1.42" fill="#00ff00"/>
<circle cx="350.8" cy="382.1" r="1.42" fill="#00ff00"/>
<circle cx="353.0" cy="382.2" r="1.42" fill="#00ff00"/>
<circle cx="350.9" cy="389.7" r="1.42" fill="#00ff00"/>
<circle cx="354.7" cy="388.4" r="1.42" fill="#00ff00"/>
<circle cx="360.9" cy="389.5" r="1.42" fill="#00ff00"/>
<circle cx="362.4" cy="390.9" r="1.42" fill="#00ff00"/>
<circle cx="371.6" cy="393.8" r="1.42" fill="#00ff00"/>
<circle cx="361.0" cy="396.9" r="1.42" fill="#00ff00"/>
<circle cx="361.4" cy="398.0" r="1.42" fill="#00ff00"/>
<circle cx="364.6" cy="401.1" r="1.42" fill="#00ff00"/>
<circle cx="344.8" cy="394.8" r="1.42" fill="#00ff00"/>
<circle cx="345.9" cy="397.3" r="1.42" fill="#00ff00"/>
<circle cx="348.1" cy="398.8" r="1.42" fill="#00ff00"/>
<circle cx="345.4" cy="400.8" r="1.42" fill="#00ff00"/>
<circle cx="356.4" cy="404.4" r="1.42" fill="#00ff00"/>
<circle cx="356.4" cy="404.8" r="1.42" fill="#00ff00"/>
<circle cx="363.5" cy="406.0" r="1.42" fill="#00ff00"/>
<circle cx="364.0" cy="407.6" r="1.42" fill="#00ff00"/>
<circle cx="357.6" cy="409.3" r="1.42" fill="#00ff00"/>
<circle cx="347.5" cy="406.8" r="1.42" fill="#00ff00"/>
<circle cx="350.1" cy="406.2" r="1.42" fill="#00ff00"/>
<circle cx="351.8" cy="407.6" r="1.42" fill="#00ff00"/>
<circle cx="349.1" cy="408.0" r="1.42" fill="#00ff00"/>
<circle cx="351.7" cy="409.7" r="1.42" fill="#00ff00"/>
<circle cx="352.8" cy="413.1" r="1.42" fill="#00ff00"/>
<circle cx="354.8" cy="415.3" r="1.42" fill="#00ff00"/>
<circle cx="359.6" cy="415.4" r="1.42" fill="#00ff00"/>
<circle cx="354.7" cy="417.1" r="1.42" fill="#00ff00"/>
<circle cx="357.1" cy="419.2" r="1.42" fill="#00ff00"/>
<circle cx="351.2" cy="420.1" r="1.42" fill="#00ff00"/>
<circle cx="348.5" cy="422.3" r="1.42" fill="#00ff00"/>
<circle cx="354.4" cy="422.0" r="1.42" fill="#00ff00"/>
<circle cx="357.5" cy="423.0" r="1.42" fill="#00ff00"/>
<circle cx="349.5" cy="425.7" r="1.42" fill="#00ff00"/>
<circle cx="351.5" cy="426.5" r="1.42" fill="#00ff00"/>
<circle cx="354.5" cy="424.6" r="1.42" fill="#00ff00"/>
<circle cx="345.0" cy="424.3" r="1.42" fill="#00ff00"/>
<circle cx="345.3" cy="417.7" r="1.42" fill="#00ff00"/>
<circle cx="345.6" cy="410.8" r="1.42" fill="#00ff00"/>
<circle cx="327.8" cy="435.6" r="1.42" fill="#00ff00"/>
<circle cx="335.3" cy="434.5" r="1.42" fill="#00ff00"/>
<circle cx="342.2" cy="438.4" r="1.42" fill="#00ff00"/>
<circle cx="344.2" cy="435.9" r="1.42" fill="#00ff00"/>
<circle cx="345.9" cy="435.3" r="1.42" fill="#00ff00"/>
<circle cx="347.2" cy="414.6" r="1.42" fill="#00ff00"/>
<circle cx="349.2" cy="425.3" r="1.42" fill="#00ff00"/>
<circle cx="343.2" cy="411.4" r="1.42" fill="#00ff00"/>
<circle cx="343.5" cy="410.9" r="1.42" fill="#00ff00"/>
<circle cx="353.4" cy="410.4" r="1.42" fill="#00ff00"/>
<circle cx="356.6" cy="410.2" r="1.42" fill="#00ff00"/>
<circle cx="347.3" cy="414.5" r="1.42" fill="#00ff00"/>
<circle cx="353.5" cy="414.0" r="1.42" fill="#00ff00"/>
<circle cx="359.0" cy="415.5" r="1.42" fill="#00ff00"/>
<circle cx="334.7" cy="414.0" r="1.42" fill="#00ff00"/>
<circle cx="338.4" cy="414.7" r="1.42" fill="#00ff00"/>
<circle cx="340.4" cy="417.3" r="1.42" fill="#00ff00"/>
<circle cx="342.1" cy="418.6" r="1.42" fill="#00ff00"/>
<circle cx="343.5" cy="420.1" r="1.42" fill="#00ff00"/>
<circle cx="340.5" cy="420.6" r="1.42" fill="#00ff00"/>
<circle cx="339.5" cy="422.2" r="1.42" fill="#00ff00"/>
<circle cx="334.5" cy="425.5" r="1.42" fill="#00ff00"/>
<circle cx="337.4" cy="428.7" r="1.42" fill="#00ff00"/>
<circle cx="339.4" cy="425.6" r="1.42" fill="#00ff00"/>
<circle cx="345.1" cy="424.9" r="1.42" fill="#00ff00"/>
<circle cx="348.4" cy="426.1" r="1.42" fill="#00ff00"/>
<circle cx="350.9" cy="426.2" r="1.42" fill="#00ff00"/>
<circle cx="352.3" cy="418.2" r="1.42" fill="#00ff00"/>
<circle cx="355.3" cy="417.9" r="1.42" fill="#00ff00"/>
<circle cx="356.5" cy="417.9" r="1.42" fill="#00ff00"/>
<circle cx="354.0" cy="422.1" r="1.42" fill="#00ff00"/>
<circle cx="356.7" cy="423.5" r="1.42" fill="#00ff00"/>
<circle cx="357.3" cy="423.3" r="1.42" fill="#00ff00"/>
<circle cx="347.3" cy="428.2" r="1.42" fill="#00ff00"/>
<circle cx="346.3" cy="430.6" r="1.42" fill="#00ff00"/>
<circle cx="344.6" cy="434.5" r="1.42" fill="#00ff00"/>
<circle cx="344.1" cy="436.6" r="1.42" fill="#00ff00"/>
<circle cx="341.7" cy="438.4" r="1.42" fill="#00ff00"/>
<circle cx="349.7" cy="434.0" r="1.42" fill="#00ff00"/>
<circle cx="336.2" cy="435.7" r="1.42" fill="#00ff00"/>
<circle cx="321.1" cy="392.3" r="1.42" fill="#00ff00"/>
<circle cx="328.0" cy="395.1" r="1.42" fill="#00ff00"/>
<circle cx="329.9" cy="395.9" r="1.42" fill="#00ff00"/>
<circle cx="315.1" cy="397.8" r="1.42" fill="#00ff00"/>
<circle cx="323.7" cy="397.3" r="1.42" fill="#00ff00"/>
<circle cx="330.6" cy="397.4" r="1.42" fill="#00ff00"/>
<circle cx="345.3" cy="397.5" r="1.42" fill="#00ff00"/>
<circle cx="347.6" cy="398.5" r="1.42" fill="#00ff00"/>
<circle cx="315.7" cy="401.5" r="1.42" fill="#00ff00"/>
<circle cx="321.4" cy="400.4" r="1.42" fill="#00ff00"/>
<circle cx="327.1" cy="401.8" r="1.42" fill="#00ff00"/>
<circle cx="333.1" cy="401.1" r="1.42" fill="#00ff00"/>
<circle cx="341.6" cy="401.4" r="1.42" fill="#00ff00"/>
<circle cx="345.9" cy="401.7" r="1.42" fill="#00ff00"/>
<circle cx="347.7" cy="400.6" r="1.42" fill="#00ff00"/>
<circle cx="351.2" cy="401.3" r="1.42" fill="#00ff00"/>
<circle cx="315.0" cy="403.6" r="1.42" fill="#00ff00"/>
<circle cx="323.4" cy="404.0" r="1.42" fill="#00ff00"/>
<circle cx="330.6" cy="404.8" r="1.42" fill="#00ff00"/>
<circle cx="333.3" cy="404.5" r="1.42" fill="#00ff00"/>
<circle cx="347.3" cy="403.5" r="1.42" fill="#00ff00"/>
<circle cx="353.7" cy="403.3" r="1.42" fill="#00ff00"/>
<circle cx="328.2" cy="405.7" r="1.42" fill="#00ff00"/>
<circle cx="329.9" cy="407.4" r="1.42" fill="#00ff00"/>
<circle cx="335.1" cy="407.3" r="1.42" fill="#00ff00"/>
<circle cx="338.6" cy="406.7" r="1.42" fill="#00ff00"/>
<circle cx="343.1" cy="406.8" r="1.42" fill="#00ff00"/>
<circle cx="349.8" cy="407.6" r="1.42" fill="#00ff00"/>
<circle cx="355.1" cy="407.3" r="1.42" fill="#00ff00"/>
<circle cx="320.0" cy="410.2" r="1.42" fill="#00ff00"/>
<circle cx="326.9" cy="411.1" r="1.42" fill="#00ff00"/>
<circle cx="329.4" cy="409.8" r="1.42" fill="#00ff00"/>
<circle cx="332.1" cy="411.0" r="1.42" fill="#00ff00"/>
<circle cx="342.8" cy="410.0" r="1.42" fill="#00ff00"/>
<circle cx="345.2" cy="409.2" r="1.42" fill="#00ff00"/>
<circle cx="348.1" cy="410.3" r="1.42" fill="#00ff00"/>
<circle cx="351.2" cy="409.7" r="1.42" fill="#00ff00"/>
<circle cx="320.8" cy="412.6" r="1.42" fill="#00ff00"/>
<circle cx="338.0" cy="412.9" r="1.42" fill="#00ff00"/>
<circle cx="354.3" cy="413.1" r="1.42" fill="#00ff00"/>
<circle cx="321.8" cy="416.0" r="1.42" fill="#00ff00"/>
<circle cx="327.4" cy="416.5" r="1.42" fill="#00ff00"/>
<circle cx="332.3" cy="416.2" r="1.42" fill="#00ff00"/>
<circle cx="341.9" cy="415.7" r="1.42" fill="#00ff00"/>
<circle cx="348.4" cy="417.1" r="1.42" fill="#00ff00"/>
<circle cx="356.3" cy="415.5" r="1.42" fill="#00ff00"/>
<circle cx="323.0" cy="419.2" r="1.42" fill="#00ff00"/>
<circle cx="326.4" cy="418.1" r="1.42" fill="#00ff00"/>
<circle cx="329.6" cy="419.4" r="1.42" fill="#00ff00"/>
<circle cx="333.7" cy="419.5" r="1.42" fill="#00ff00"/>
<circle cx="338.8" cy="419.5" r="1.42" fill="#00ff00"/>
<circle cx="348.0" cy="419.1" r="1.42" fill="#00ff00"/>
<circle cx="356.5" cy="419.6" r="1.42" fill="#00ff00"/>
<circle cx="325.7" cy="422.8" r="1.42" fill="#00ff00"/>
<circle cx="344.6" cy="421.6" r="1.42" fill="#00ff00"/>
<circle cx="347.7" cy="421.6" r="1.42" fill="#00ff00"/>
<circle cx="324.9" cy="425.4" r="1.42" fill="#00ff00"/>
<circle cx="326.7" cy="426.3" r="1.42" fill="#00ff00"/>
<circle cx="336.4" cy="425.3" r="1.42" fill="#00ff00"/>
<circle cx="338.3" cy="425.5" r="1.42" fill="#00ff00"/>
<circle cx="342.8" cy="425.8" r="1.42" fill="#00ff00"/>
<circle cx="347.8" cy="426.1" r="1.42" fill="#00ff00"/>
<circle cx="334.3" cy="428.2" r="1.42" fill="#00ff00"/>
<circle cx="330.9" cy="431.1" r="1.42" fill="#00ff00"/>
<circle cx="341.9" cy="432.2" r="1.42" fill="#00ff00"/>
<circle cx="348.4" cy="431.0" r="1.42" fill="#00ff00"/>
<circle cx="330.4" cy="433.2" r="1.42" fill="#00ff00"/>
<circle cx="341.4" cy="435.8" r="1.42" fill="#00ff00"/>
<circle cx="316.7" cy="398.8" r="1.42" fill="#00ff00"/>
<circle cx="314.3" cy="400.3" r="1.42" fill="#00ff00"/>
<circle cx="318.9" cy="399.8" r="1.42" fill="#00ff00"/>
<circle cx="313.8" cy="402.7" r="1.42" fill="#00ff00"/>
<circle cx="320.4" cy="402.7" r="1.42" fill="#00ff00"/>
<circle cx="321.8" cy="401.4" r="1.42" fill="#00ff00"/>
<circle cx="314.5" cy="405.0" r="1.42" fill="#00ff00"/>
<circle cx="314.8" cy="404.6" r="1.42" fill="#00ff00"/>
<circle cx="316.9" cy="405.2" r="1.42" fill="#00ff00"/>
<circle cx="321.6" cy="405.0" r="1.42" fill="#00ff00"/>
<circle cx="323.9" cy="404.1" r="1.42" fill="#00ff00"/>
<circle cx="316.7" cy="406.0" r="1.42" fill="#00ff00"/>
<circle cx="318.1" cy="407.1" r="1.42" fill="#00ff00"/>
<circle cx="315.5" cy="409.4" r="1.42" fill="#00ff00"/>
<circle cx="317.4" cy="408.9" r="1.42" fill="#00ff00"/>
<circle cx="320.6" cy="409.7" r="1.42" fill="#00ff00"/>
<circle cx="321.5" cy="409.4" r="1.42" fill="#00ff00"/>
<circle cx="325.2" cy="408.6" r="1.42" fill="#00ff00"/>
<circle cx="327.0" cy="410.3" r="1.42" fill="#00ff00"/>
<circle cx="316.8" cy="410.5" r="1.42" fill="#00ff00"/>
<circle cx="323.7" cy="411.9" r="1.42" fill="#00ff00"/>
<circle cx="319.5" cy="413.8" r="1.42" fill="#00ff00"/>
<circle cx="322.3" cy="415.1" r="1.42" fill="#00ff00"/>
<circle cx="325.3" cy="414.8" r="1.42" fill="#00ff00"/>
<circle cx="318.7" cy="416.8" r="1.42" fill="#00ff00"/>
<circle cx="326.8" cy="417.1" r="1.42" fill="#00ff00"/>
<circle cx="326.2" cy="419.6" r="1.42" fill="#00ff00"/>
<circle cx="322.2" cy="420.2" r="1.42" fill="#00ff00"/>
<circle cx="327.7" cy="421.4" r="1.42" fill="#00ff00"/>
<circle cx="323.1" cy="423.1" r="1.42" fill="#00ff00"/>
<circle cx="326.0" cy="423.9" r="1.42" fill="#00ff00"/>
<circle cx="326.2" cy="422.9" r="1.42" fill="#00ff00"/>
<circle cx="322.9" cy="424.7" r="1.42" fill="#00ff00"/>
<circle cx="329.0" cy="425.4" r="1.42" fill="#00ff00"/>
<circle cx="325.5" cy="428.2" r="1.42" fill="#00ff00"/>
<circle cx="325.9" cy="429.8" r="1.42" fill="#00ff00"/>
<circle cx="275.9" cy="326.7" r="1.42" fill="#ff0000"/>
<circle cx="274.6" cy="329.9" r="1.42" fill="#ff0000"/>
<circle cx="274.1" cy="331.2" r="1.42" fill="#ff0000"/>
<circle cx="273.4" cy="333.6" r="1.42" fill="#ff0000"/>
<circle cx="281.7" cy="332.6" r="1.42" fill="#ff0000"/>
<circle cx="283.8" cy="333.3" r="1.42" fill="#ff0000"/>
<circle cx="283.2" cy="335.5" r="1.42" fill="#ff0000"/>
<circle cx="283.7" cy="335.9" r="1.42" fill="#ff0000"/>
<circle cx="276.3" cy="339.2" r="1.42" fill="#ff0000"/>
<circle cx="279.8" cy="342.5" r="1.42" fill="#ff0000"/>
<circle cx="282.6" cy="339.6" r="1.42" fill="#ff0000"/>
<circle cx="275.0" cy="343.9" r="1.42" fill="#ff0000"/>
<circle cx="274.8" cy="344.8" r="1.42" fill="#ff0000"/>
<circle cx="275.7" cy="347.3" r="1.42" fill="#ff0000"/>
<circle cx="276.3" cy="350.3" r="1.42" fill="#ff0000"/>
<circle cx="278.2" cy="350.0" r="1.42" fill="#ff0000"/>
<circle cx="289.4" cy="349.5" r="1.42" fill="#ff0000"/>
<circle cx="275.1" cy="345.8" r="1.42" fill="#ff0000"/>
<circle cx="275.6" cy="347.6" r="1.42" fill="#ff0000"/>
<circle cx="289.4" cy="349.9" r="1.42" fill="#ff0000"/>
<circle cx="276.7" cy="351.0" r="1.42" fill="#ff0000"/>
<circle cx="277.7" cy="351.9" r="1.42" fill="#ff0000"/>
<circle cx="281.7" cy="352.6" r="1.42" fill="#ff0000"/>
<circle cx="279.1" cy="354.7" r="1.42" fill="#ff0000"/>
<circle cx="274.8" cy="357.4" r="1.42" fill="#ff0000"/>
<circle cx="277.0" cy="357.0" r="1.42" fill="#ff0000"/>
<circle cx="278.9" cy="357.7" r="1.42" fill="#ff0000"/>
<circle cx="281.0" cy="357.0" r="1.42" fill="#ff0000"/>
<circle cx="285.4" cy="358.1" r="1.42" fill="#ff0000"/>
<circle cx="283.1" cy="360.1" r="1.42" fill="#ff0000"/>
<circle cx="275.7" cy="360.1" r="1.42" fill="#ff0000"/>
<circle cx="277.1" cy="361.7" r="1.42" fill="#ff0000"/>
<circle cx="279.0" cy="363.1" r="1.42" fill="#ff0000"/>
<circle cx="280.2" cy="363.9" r="1.42" fill="#ff0000"/>
<circle cx="283.8" cy="365.3" r="1.42" fill="#ff0000"/>
<circle cx="278.9" cy="372.1" r="1.42" fill="#ff0000"/>
<circle cx="279.0" cy="374.5" r="1.42" fill="#ff0000"/>
<circle cx="281.8" cy="373.0" r="1.42" fill="#ff0000"/>
<circle cx="284.2" cy="374.8" r="1.42" fill="#ff0000"/>
<circle cx="281.5" cy="377.8" r="1.42" fill="#ff0000"/>
<circle cx="301.8" cy="366.5" r="1.42" fill="#ff0000"/>
<circle cx="293.6" cy="369.6" r="1.42" fill="#ff0000"/>
<circle cx="294.4" cy="374.5" r="1.42" fill="#ff0000"/>
<circle cx="297.1" cy="375.2" r="1.42" fill="#ff0000"/>
<circle cx="299.7" cy="376.0" r="1.42" fill="#ff0000"/>
<circle cx="288.6" cy="376.1" r="1.42" fill="#ff0000"/>
<circle cx="290.3" cy="377.3" r="1.42" fill="#ff0000"/>
<circle cx="291.8" cy="377.9" r="1.42" fill="#ff0000"/>
<circle cx="294.3" cy="379.8" r="1.42" fill="#ff0000"/>
<circle cx="296.9" cy="379.7" r="1.42" fill="#ff0000"/>
<circle cx="297.8" cy="379.7" r="1.42" fill="#ff0000"/>
<circle cx="299.8" cy="380.8" r="1.42" fill="#ff0000"/>
<circle cx="280.0" cy="383.5" r="1.42" fill="#ff0000"/>
<circle cx="282.1" cy="383.0" r="1.42" fill="#ff0000"/>
<circle cx="286.4" cy="384.0" r="1.42" fill="#ff0000"/>
<circle cx="288.6" cy="384.5" r="1.42" fill="#ff0000"/>
<circle cx="290.6" cy="385.6" r="1.42" fill="#ff0000"/>
<circle cx="292.7" cy="384.9" r="1.42" fill="#ff0000"/>
<circle cx="293.9" cy="385.2" r="1.42" fill="#ff0000"/>
<circle cx="296.8" cy="386.8" r="1.42" fill="#ff0000"/>
<circle cx="298.6" cy="385.8" r="1.42" fill="#ff0000"/>
<circle cx="301.5" cy="385.2" r="1.42" fill="#ff0000"/>
<circle cx="280.8" cy="385.9" r="1.42" fill="#ff0000"/>
<circle cx="283.8" cy="387.4" r="1.42" fill="#ff0000"/>
<circle cx="285.1" cy="388.3" r="1.42" fill="#ff0000"/>
<circle cx="287.2" cy="388.4" r="1.42" fill="#ff0000"/>
<circle cx="289.1" cy="388.8" r="1.42" fill="#ff0000"/>
<circle cx="291.7" cy="389.7" r="1.42" fill="#ff0000"/>
<circle cx="293.4" cy="387.8" r="1.42" fill="#ff0000"/>
<circle cx="295.4" cy="389.3" r="1.42" fill="#ff0000"/>
<circle cx="297.6" cy="388.8" r="1.42" fill="#ff0000"/>
<circle cx="280.4" cy="389.2" r="1.42" fill="#ff0000"/>
<circle cx="282.7" cy="391.9" r="1.42" fill="#ff0000"/>
<circle cx="283.9" cy="392.8" r="1.42" fill="#ff0000"/>
<circle cx="286.1" cy="392.2" r="1.42" fill="#ff0000"/>
<circle cx="288.0" cy="393.4" r="1.42" fill="#ff0000"/>
<circle cx="290.1" cy="393.2" r="1.42" fill="#ff0000"/>
<circle cx="291.9" cy="392.0" r="1.42" fill="#ff0000"/>
<circle cx="293.8" cy="393.0" r="1.42" fill="#ff0000"/>
<circle cx="295.8" cy="392.4" r="1.42" fill="#ff0000"/>
<circle cx="298.8" cy="394.5" r="1.42" fill="#ff0000"/>
<circle cx="299.8" cy="393.1" r="1.42" fill="#ff0000"/>
<circle cx="301.9" cy="392.1" r="1.42" fill="#ff0000"/>
<circle cx="284.0" cy="395.4" r="1.42" fill="#ff0000"/>
<circle cx="288.8" cy="395.4" r="1.42" fill="#ff0000"/>
<circle cx="289.9" cy="397.5" r="1.42" fill="#ff0000"/>
<circle cx="292.5" cy="395.9" r="1.42" fill="#ff0000"/>
<circle cx="294.6" cy="397.0" r="1.42" fill="#ff0000"/>
<circle cx="296.7" cy="397.3" r="1.42" fill="#ff0000"/>
<circle cx="300.4" cy="396.2" r="1.42" fill="#ff0000"/>
<circle cx="302.2" cy="396.0" r="1.42" fill="#ff0000"/>
<circle cx="304.0" cy="393.9" r="1.42" fill="#ff0000"/>
<circle cx="301.2" cy="387.8" r="1.42" fill="#ff0000"/>
<circle cx="304.0" cy="391.9" r="1.42" fill="#ff0000"/>
<circle cx="301.6" cy="366.5" r="1.42" fill="#ff0000"/>
<circle cx="306.6" cy="372.4" r="1.42" fill="#ff0000"/>
<circle cx="305.8" cy="372.5" r="1.42" fill="#ff0000"/>
<circle cx="306.8" cy="375.9" r="1.42" fill="#ff0000"/>
<circle cx="300.5" cy="375.6" r="1.42" fill="#ff0000"/>
<circle cx="300.5" cy="381.0" r="1.42" fill="#ff0000"/>
<circle cx="301.1" cy="385.1" r="1.42" fill="#ff0000"/>
<circle cx="301.1" cy="387.2" r="1.42" fill="#ff0000"/>
<circle cx="306.1" cy="387.4" r="1.42" fill="#ff0000"/>
<circle cx="307.5" cy="389.2" r="1.42" fill="#ff0000"/>
<circle cx="305.5" cy="415.6" r="1.42" fill="#ff0000"/>
<circle cx="318.5" cy="432.8" r="1.42" fill="#ff0000"/>
<circle cx="322.2" cy="433.0" r="1.42" fill="#ff0000"/>
<circle cx="306.4" cy="420.1" r="1.42" fill="#ff0000"/>
<circle cx="305.0" cy="416.0" r="1.42" fill="#ff0000"/>
<circle cx="307.2" cy="419.0" r="1.42" fill="#ff0000"/>
<circle cx="290.5" cy="372.5" r="1.42" fill="#ff0000"/>
<circle cx="292.3" cy="373.0" r="1.42" fill="#ff0000"/>
<circle cx="296.8" cy="371.1" r="1.42" fill="#ff0000"/>
<circle cx="282.5" cy="374.6" r="1.42" fill="#ff0000"/>
<circle cx="285.7" cy="373.7" r="1.42" fill="#ff0000"/>
<circle cx="288.2" cy="374.1" r="1.42" fill="#ff0000"/>
<circle cx="290.6" cy="374.2" r="1.42" fill="#ff0000"/>
<circle cx="292.3" cy="374.9" r="1.42" fill="#ff0000"/>
<circle cx="283.8" cy="377.6" r="1.42" fill="#ff0000"/>
<circle cx="285.1" cy="376.9" r="1.42" fill="#ff0000"/>
<circle cx="290.4" cy="377.0" r="1.42" fill="#ff0000"/>
<circle cx="291.9" cy="376.7" r="1.42" fill="#ff0000"/>
<circle cx="293.8" cy="377.5" r="1.42" fill="#ff0000"/>
<circle cx="281.0" cy="378.4" r="1.42" fill="#ff0000"/>
<circle cx="283.4" cy="378.6" r="1.42" fill="#ff0000"/>
<circle cx="286.2" cy="377.5" r="1.42" fill="#ff0000"/>
<circle cx="286.9" cy="378.9" r="1.42" fill="#ff0000"/>
<circle cx="288.4" cy="378.9" r="1.42" fill="#ff0000"/>
<circle cx="290.9" cy="379.2" r="1.42" fill="#ff0000"/>
<circle cx="294.0" cy="378.1" r="1.42" fill="#ff0000"/>
<circle cx="298.1" cy="379.0" r="1.42" fill="#ff0000"/>
<circle cx="279.7" cy="379.2" r="1.42" fill="#ff0000"/>
<circle cx="282.6" cy="379.8" r="1.42" fill="#ff0000"/>
<circle cx="285.3" cy="380.0" r="1.42" fill="#ff0000"/>
<circle cx="290.0" cy="379.5" r="1.42" fill="#ff0000"/>
<circle cx="293.5" cy="380.3" r="1.42" fill="#ff0000"/>
<circle cx="295.3" cy="380.7" r="1.42" fill="#ff0000"/>
<circle cx="298.0" cy="381.1" r="1.42" fill="#ff0000"/>
<circle cx="300.4" cy="380.7" r="1.42" fill="#ff0000"/>
<circle cx="283.2" cy="381.3" r="1.42" fill="#ff0000"/>
<circle cx="285.7" cy="383.7" r="1.42" fill="#ff0000"/>
<circle cx="286.0" cy="383.1" r="1.42" fill="#ff0000"/>
<circle cx="290.5" cy="382.4" r="1.42" fill="#ff0000"/>
<circle cx="292.0" cy="382.1" r="1.42" fill="#ff0000"/>
<circle cx="295.8" cy="383.3" r="1.42" fill="#ff0000"/>
<circle cx="298.9" cy="381.3" r="1.42" fill="#ff0000"/>
<circle cx="300.1" cy="382.3" r="1.42" fill="#ff0000"/>
<circle cx="281.1" cy="383.9" r="1.42" fill="#ff0000"/>
<circle cx="284.9" cy="384.4" r="1.42" fill="#ff0000"/>
<circle cx="289.7" cy="384.4" r="1.42" fill="#ff0000"/>
<circle cx="291.6" cy="385.9" r="1.42" fill="#ff0000"/>
<circle cx="294.2" cy="384.0" r="1.42" fill="#ff0000"/>
<circle cx="295.6" cy="385.5" r="1.42" fill="#ff0000"/>
<circle cx="297.9" cy="384.6" r="1.42" fill="#ff0000"/>
<circle cx="300.3" cy="383.8" r="1.42" fill="#ff0000"/>
<circle cx="302.1" cy="383.8" r="1.42" fill="#ff0000"/>
<circle cx="281.0" cy="385.9" r="1.42" fill="#ff0000"/>
<circle cx="285.0" cy="387.0" r="1.42" fill="#ff0000"/>
<circle cx="286.7" cy="387.1" r="1.42" fill="#ff0000"/>
<circle cx="292.9" cy="386.5" r="1.42" fill="#ff0000"/>
<circle cx="294.0" cy="386.7" r="1.42" fill="#ff0000"/>
<circle cx="294.9" cy="385.7" r="1.42" fill="#ff0000"/>
<circle cx="296.9" cy="386.4" r="1.42" fill="#ff0000"/>
<circle cx="300.1" cy="386.2" r="1.42" fill="#ff0000"/>
<circle cx="305.8" cy="387.3" r="1.42" fill="#ff0000"/>
<circle cx="283.6" cy="388.3" r="1.42" fill="#ff0000"/>
<circle cx="286.8" cy="389.7" r="1.42" fill="#ff0000"/>
<circle cx="290.2" cy="389.4" r="1.42" fill="#ff0000"/>
<circle cx="292.7" cy="390.0" r="1.42" fill="#ff0000"/>
<circle cx="294.3" cy="389.1" r="1.42" fill="#ff0000"/>
<circle cx="296.4" cy="387.8" r="1.42" fill="#ff0000"/>
<circle cx="298.4" cy="387.8" r="1.42" fill="#ff0000"/>
<circle cx="300.2" cy="388.7" r="1.42" fill="#ff0000"/>
<circle cx="302.7" cy="389.5" r="1.42" fill="#ff0000"/>
<circle cx="304.0" cy="389.1" r="1.42" fill="#ff0000"/>
<circle cx="306.1" cy="389.8" r="1.42" fill="#ff0000"/>
<circle cx="284.4" cy="391.8" r="1.42" fill="#ff0000"/>
<circle cx="287.7" cy="390.0" r="1.42" fill="#ff0000"/>
<circle cx="291.8" cy="391.1" r="1.42" fill="#ff0000"/>
<circle cx="293.9" cy="391.1" r="1.42" fill="#ff0000"/>
<circle cx="296.5" cy="391.0" r="1.42" fill="#ff0000"/>
<circle cx="297.3" cy="389.5" r="1.42" fill="#ff0000"/>
<circle cx="302.2" cy="391.5" r="1.42" fill="#ff0000"/>
<circle cx="305.6" cy="391.4" r="1.42" fill="#ff0000"/>
<circle cx="308.4" cy="391.7" r="1.42" fill="#ff0000"/>
<circle cx="287.9" cy="392.4" r="1.42" fill="#ff0000"/>
<circle cx="289.8" cy="393.5" r="1.42" fill="#ff0000"/>
<circle cx="291.2" cy="392.8" r="1.42" fill="#ff0000"/>
<circle cx="293.3" cy="393.2" r="1.42" fill="#ff0000"/>
<circle cx="296.3" cy="392.1" r="1.42" fill="#ff0000"/>
<circle cx="299.2" cy="392.8" r="1.42" fill="#ff0000"/>
<circle cx="302.0" cy="393.2" r="1.42" fill="#ff0000"/>
<circle cx="304.0" cy="392.1" r="1.42" fill="#ff0000"/>
<circle cx="306.2" cy="393.7" r="1.42" fill="#ff0000"/>
<circle cx="308.1" cy="392.8" r="1.42" fill="#ff0000"/>
<circle cx="283.6" cy="395.2" r="1.42" fill="#ff0000"/>
<circle cx="284.2" cy="395.5" r="1.42" fill="#ff0000"/>
<circle cx="287.0" cy="395.6" r="1.42" fill="#ff0000"/>
<circle cx="290.4" cy="394.9" r="1.42" fill="#ff0000"/>
<circle cx="292.6" cy="394.8" r="1.42" fill="#ff0000"/>
<circle cx="295.9" cy="395.1" r="1.42" fill="#ff0000"/>
<circle cx="297.8" cy="395.3" r="1.42" fill="#ff0000"/>
<circle cx="299.2" cy="396.0" r="1.42" fill="#ff0000"/>
<circle cx="304.1" cy="396.0" r="1.42" fill="#ff0000"/>
<circle cx="309.5" cy="394.5" r="1.42" fill="#ff0000"/>
<circle cx="286.0" cy="396.4" r="1.42" fill="#ff0000"/>
<circle cx="290.1" cy="397.7" r="1.42" fill="#ff0000"/>
<circle cx="291.8" cy="397.2" r="1.42" fill="#ff0000"/>
<circle cx="294.2" cy="396.7" r="1.42" fill="#ff0000"/>
<circle cx="304.3" cy="398.4" r="1.42" fill="#ff0000"/>
<circle cx="308.7" cy="398.7" r="1.42" fill="#ff0000"/>
<circle cx="288.1" cy="398.9" r="1.42" fill="#ff0000"/>
<circle cx="289.0" cy="399.1" r="1.42" fill="#ff0000"/>
<circle cx="291.6" cy="399.1" r="1.42" fill="#ff0000"/>
<circle cx="293.6" cy="398.6" r="1.42" fill="#ff0000"/>
<circle cx="298.8" cy="399.2" r="1.42" fill="#ff0000"/>
<circle cx="301.3" cy="400.3" r="1.42" fill="#ff0000"/>
<circle cx="302.4" cy="399.6" r="1.42" fill="#ff0000"/>
<circle cx="307.1" cy="398.8" r="1.42" fill="#ff0000"/>
<circle cx="287.8" cy="401.3" r="1.42" fill="#ff0000"/>
<circle cx="290.3" cy="400.6" r="1.42" fill="#ff0000"/>
<circle cx="291.5" cy="402.5" r="1.42" fill="#ff0000"/>
<circle cx="295.3" cy="402.2" r="1.42" fill="#ff0000"/>
<circle cx="298.3" cy="400.7" r="1.42" fill="#ff0000"/>
<circle cx="301.3" cy="400.9" r="1.42" fill="#ff0000"/>
<circle cx="303.9" cy="401.6" r="1.42" fill="#ff0000"/>
<circle cx="305.5" cy="401.3" r="1.42" fill="#ff0000"/>
<circle cx="310.7" cy="401.9" r="1.42" fill="#ff0000"/>
<circle cx="289.9" cy="404.1" r="1.42" fill="#ff0000"/>
<circle cx="292.5" cy="402.9" r="1.42" fill="#ff0000"/>
<circle cx="292.7" cy="403.4" r="1.42" fill="#ff0000"/>
<circle cx="298.1" cy="402.4" r="1.42" fill="#ff0000"/>
<circle cx="299.5" cy="403.1" r="1.42" fill="#ff0000"/>
<circle cx="300.9" cy="405.0" r="1.42" fill="#ff0000"/>
<circle cx="306.7" cy="404.0" r="1.42" fill="#ff0000"/>
<circle cx="308.2" cy="402.7" r="1.42" fill="#ff0000"/>
<circle cx="313.4" cy="403.7" r="1.42" fill="#ff0000"/>
<circle cx="292.6" cy="406.1" r="1.42" fill="#ff0000"/>
<circle cx="296.0" cy="405.9" r="1.42" fill="#ff0000"/>
<circle cx="299.1" cy="406.4" r="1.42" fill="#ff0000"/>
<circle cx="302.0" cy="405.4" r="1.42" fill="#ff0000"/>
<circle cx="307.5" cy="407.0" r="1.42" fill="#ff0000"/>
<circle cx="312.3" cy="404.4" r="1.42" fill="#ff0000"/>
<circle cx="293.9" cy="408.1" r="1.42" fill="#ff0000"/>
<circle cx="300.8" cy="407.9" r="1.42" fill="#ff0000"/>
<circle cx="304.3" cy="408.4" r="1.42" fill="#ff0000"/>
<circle cx="309.0" cy="409.0" r="1.42" fill="#ff0000"/>
<circle cx="310.9" cy="408.3" r="1.42" fill="#ff0000"/>
<circle cx="312.7" cy="407.1" r="1.42" fill="#ff0000"/>
<circle cx="294.8" cy="408.7" r="1.42" fill="#ff0000"/>
<circle cx="295.1" cy="409.4" r="1.42" fill="#ff0000"/>
<circle cx="298.9" cy="411.0" r="1.42" fill="#ff0000"/>
<circle cx="299.4" cy="409.9" r="1.42" fill="#ff0000"/>
<circle cx="300.9" cy="410.7" r="1.42" fill="#ff0000"/>
<circle cx="305.9" cy="409.0" r="1.42" fill="#ff0000"/>
<circle cx="308.8" cy="410.6" r="1.42" fill="#ff0000"/>
<circle cx="311.6" cy="409.7" r="1.42" fill="#ff0000"/>
<circle cx="314.1" cy="409.6" r="1.42" fill="#ff0000"/>
<circle cx="296.3" cy="411.3" r="1.42" fill="#ff0000"/>
<circle cx="298.4" cy="412.0" r="1.42" fill="#ff0000"/>
<circle cx="301.6" cy="412.2" r="1.42" fill="#ff0000"/>
<circle cx="303.7" cy="411.7" r="1.42" fill="#ff0000"/>
<circle cx="305.8" cy="412.4" r="1.42" fill="#ff0000"/>
<circle cx="307.9" cy="412.1" r="1.42" fill="#ff0000"/>
<circle cx="310.3" cy="412.3" r="1.42" fill="#ff0000"/>
<circle cx="312.9" cy="413.3" r="1.42" fill="#ff0000"/>
<circle cx="314.9" cy="413.0" r="1.42" fill="#ff0000"/>
<circle cx="298.4" cy="414.6" r="1.42" fill="#ff0000"/>
<circle cx="300.3" cy="415.0" r="1.42" fill="#ff0000"/>
<circle cx="303.2" cy="414.0" r="1.42" fill="#ff0000"/>
<circle cx="302.9" cy="413.8" r="1.42" fill="#ff0000"/>
<circle cx="307.5" cy="414.6" r="1.42" fill="#ff0000"/>
<circle cx="311.1" cy="414.3" r="1.42" fill="#ff0000"/>
<circle cx="314.1" cy="414.2" r="1.42" fill="#ff0000"/>
<circle cx="316.1" cy="413.8" r="1.42" fill="#ff0000"/>
<circle cx="302.3" cy="416.3" r="1.42" fill="#ff0000"/>
<circle cx="303.4" cy="416.8" r="1.42" fill="#ff0000"/>
<circle cx="306.0" cy="416.6" r="1.42" fill="#ff0000"/>
<circle cx="308.2" cy="416.9" r="1.42" fill="#ff0000"/>
<circle cx="309.4" cy="416.4" r="1.42" fill="#ff0000"/>
<circle cx="312.1" cy="416.3" r="1.42" fill="#ff0000"/>
<circle cx="318.4" cy="416.4" r="1.42" fill="#ff0000"/>
<circle cx="304.5" cy="419.3" r="1.42" fill="#ff0000"/>
<circle cx="307.1" cy="417.0" r="1.42" fill="#ff0000"/>
<circle cx="309.7" cy="419.3" r="1.42" fill="#ff0000"/>
<circle cx="311.5" cy="418.6" r="1.42" fill="#ff0000"/>
<circle cx="314.4" cy="417.4" r="1.42" fill="#ff0000"/>
<circle cx="315.5" cy="418.4" r="1.42" fill="#ff0000"/>
<circle cx="318.8" cy="417.8" r="1.42" fill="#ff0000"/>
<circle cx="320.3" cy="418.3" r="1.42" fill="#ff0000"/>
<circle cx="303.9" cy="420.1" r="1.42" fill="#ff0000"/>
<circle cx="305.7" cy="419.4" r="1.42" fill="#ff0000"/>
<circle cx="307.9" cy="420.4" r="1.42" fill="#ff0000"/>
<circle cx="309.7" cy="420.0" r="1.42" fill="#ff0000"/>
<circle cx="312.3" cy="420.6" r="1.42" fill="#ff0000"/>
<circle cx="313.9" cy="419.7" r="1.42" fill="#ff0000"/>
<circle cx="316.6" cy="420.5" r="1.42" fill="#ff0000"/>
<circle cx="319.0" cy="421.2" r="1.42" fill="#ff0000"/>
<circle cx="320.6" cy="420.0" r="1.42" fill="#ff0000"/>
<circle cx="311.9" cy="421.9" r="1.42" fill="#ff0000"/>
<circle cx="315.0" cy="422.3" r="1.42" fill="#ff0000"/>
<circle cx="317.5" cy="421.8" r="1.42" fill="#ff0000"/>
<circle cx="318.5" cy="423.1" r="1.42" fill="#ff0000"/>
<circle cx="312.8" cy="423.8" r="1.42" fill="#ff0000"/>
<circle cx="315.1" cy="425.6" r="1.42" fill="#ff0000"/>
<circle cx="316.7" cy="424.0" r="1.42" fill="#ff0000"/>
<circle cx="321.9" cy="425.1" r="1.42" fill="#ff0000"/>
<circle cx="323.3" cy="425.6" r="1.42" fill="#ff0000"/>
<circle cx="313.6" cy="427.4" r="1.42" fill="#ff0000"/>
<circle cx="318.1" cy="426.0" r="1.42" fill="#ff0000"/>
<circle cx="319.4" cy="427.0" r="1.42" fill="#ff0000"/>
<circle cx="322.1" cy="426.3" r="1.42" fill="#ff0000"/>
<circle cx="314.6" cy="428.2" r="1.42" fill="#ff0000"/>
<circle cx="315.9" cy="428.4" r="1.42" fill="#ff0000"/>
<circle cx="318.8" cy="429.6" r="1.42" fill="#ff0000"/>
<circle cx="320.4" cy="427.5" r="1.42" fill="#ff0000"/>
<circle cx="324.5" cy="427.6" r="1.42" fill="#ff0000"/>
<circle cx="315.7" cy="431.0" r="1.42" fill="#ff0000"/>
<circle cx="318.0" cy="431.1" r="1.42" fill="#ff0000"/>
<circle cx="322.8" cy="431.9" r="1.42" fill="#ff0000"/>
<circle cx="276.1" cy="349.4" r="1.42" fill="#ff0000"/>
<circle cx="277.0" cy="351.1" r="1.42" fill="#ff0000"/>
<circle cx="278.9" cy="352.3" r="1.42" fill="#ff0000"/>
<circle cx="275.2" cy="352.9" r="1.42" fill="#ff0000"/>
<circle cx="280.0" cy="352.3" r="1.42" fill="#ff0000"/>
<circle cx="280.7" cy="355.6" r="1.42" fill="#ff0000"/>
<circle cx="277.1" cy="358.4" r="1.42" fill="#ff0000"/>
<circle cx="277.6" cy="358.5" r="1.42" fill="#ff0000"/>
<circle cx="279.5" cy="358.7" r="1.42" fill="#ff0000"/>
<circle cx="276.2" cy="359.9" r="1.42" fill="#ff0000"/>
<circle cx="278.2" cy="360.8" r="1.42" fill="#ff0000"/>
<circle cx="280.1" cy="359.5" r="1.42" fill="#ff0000"/>
<circle cx="279.3" cy="361.6" r="1.42" fill="#ff0000"/>
<circle cx="279.0" cy="362.7" r="1.42" fill="#ff0000"/>
<circle cx="283.3" cy="362.4" r="1.42" fill="#ff0000"/>
<circle cx="278.5" cy="364.5" r="1.42" fill="#ff0000"/>
<circle cx="384.2" cy="338.2" r="1.42" fill="#0000ff"/>
<circle cx="383.3" cy="347.1" r="1.42" fill="#0000ff"/>
<circle cx="382.0" cy="348.8" r="1.42" fill="#0000ff"/>
<circle cx="383.5" cy="353.6" r="1.42" fill="#0000ff"/>
<circle cx="385.8" cy="356.1" r="1.42" fill="#0000ff"/>
<circle cx="386.1" cy="358.0" r="1.42" fill="#0000ff"/>
<circle cx="384.9" cy="359.7" r="1.42" fill="#0000ff"/>
<circle cx="388.3" cy="358.5" r="1.42" fill="#0000ff"/>
<circle cx="389.4" cy="360.1" r="1.42" fill="#0000ff"/>
<circle cx="391.2" cy="357.1" r="1.42" fill="#0000ff"/>
<circle cx="384.3" cy="371.7" r="1.42" fill="#0000ff"/>
<circle cx="377.4" cy="378.4" r="1.42" fill="#0000ff"/>
<circle cx="367.6" cy="382.7" r="1.42" fill="#0000ff"/>
<circle cx="400.4" cy="319.1" r="1.42" fill="#0000ff"/>
<circle cx="384.4" cy="339.3" r="1.42" fill="#0000ff"/>
<circle cx="377.8" cy="377.8" r="1.42" fill="#0000ff"/>
<circle cx="368.4" cy="382.0" r="1.42" fill="#0000ff"/>
<circle cx="370.1" cy="384.6" r="1.42" fill="#0000ff"/>
<circle cx="368.8" cy="388.2" r="1.42" fill="#0000ff"/>
<circle cx="371.0" cy="404.8" r="1.42" fill="#0000ff"/>
<circle cx="373.1" cy="409.8" r="1.42" fill="#0000ff"/>
<circle cx="259.4" cy="309.5" r="1.42" fill="#000000"/>
<circle cx="258.8" cy="323.6" r="1.42" fill="#000000"/>
<circle cx="262.4" cy="323.6" r="1.42" fill="#000000"/>
<circle cx="260.5" cy="327.0" r="1.42" fill="#000000"/>
<circle cx="269.9" cy="325.5" r="1.42" fill="#000000"/>
<circle cx="270.9" cy="327.6" r="1.42" fill="#000000"/>
<circle cx="271.0" cy="329.9" r="1.42" fill="#000000"/>
<circle cx="263.1" cy="330.1" r="1.42" fill="#000000"/>
<circle cx="263.1" cy="329.9" r="1.42" fill="#000000"/>
<circle cx="264.6" cy="337.3" r="1.42" fill="#000000"/>
<circle cx="265.2" cy="338.7" r="1.42" fill="#000000"/>
<circle cx="263.7" cy="339.7" r="1.42" fill="#000000"/>
<circle cx="267.2" cy="339.1" r="1.42" fill="#000000"/>
<circle cx="268.3" cy="339.5" r="1.42" fill="#000000"/>
<circle cx="270.5" cy="338.9" r="1.42" fill="#000000"/>
<circle cx="271.0" cy="338.1" r="1.42" fill="#000000"/>
<circle cx="266.3" cy="341.2" r="1.42" fill="#000000"/>
<circle cx="262.0" cy="343.0" r="1.42" fill="#000000"/>
<circle cx="264.9" cy="345.4" r="1.42" fill="#000000"/>
<circle cx="263.4" cy="347.1" r="1.42" fill="#000000"/>
<circle cx="271.9" cy="345.7" r="1.42" fill="#000000"/>
<circle cx="267.8" cy="349.6" r="1.42" fill="#000000"/>
<circle cx="266.5" cy="336.9" r="1.42" fill="#000000"/>
<circle cx="263.3" cy="347.3" r="1.42" fill="#000000"/>
<circle cx="264.6" cy="345.6" r="1.42" fill="#000000"/>
<circle cx="271.8" cy="345.6" r="1.42" fill="#000000"/>
<circle cx="267.6" cy="349.9" r="1.42" fill="#000000"/>
<circle cx="268.7" cy="357.4" r="1.42" fill="#000000"/>
<circle cx="269.2" cy="357.1" r="1.42" fill="#000000"/>
<circle cx="268.1" cy="360.0" r="1.42" fill="#000000"/>
<circle cx="269.4" cy="360.0" r="1.42" fill="#000000"/>
<circle cx="270.2" cy="359.5" r="1.42" fill="#000000"/>
<circle cx="271.5" cy="360.6" r="1.42" fill="#000000"/>
<circle cx="271.6" cy="362.7" r="1.42" fill="#000000"/>
<circle cx="269.6" cy="363.5" r="1.42" fill="#000000"/>
<circle cx="271.8" cy="364.9" r="1.42" fill="#000000"/>
<circle cx="274.0" cy="366.1" r="1.42" fill="#000000"/>
<circle cx="271.2" cy="369.2" r="1.42" fill="#000000"/>
<circle cx="272.4" cy="374.5" r="1.42" fill="#000000"/>
<circle cx="274.2" cy="375.1" r="1.42" fill="#000000"/>
<circle cx="276.5" cy="371.5" r="1.42" fill="#000000"/>
<circle cx="276.3" cy="376.4" r="1.42" fill="#000000"/>
<circle cx="371.2" cy="406.2" r="2.2" fill="#2a2aff" stroke="#707070" stroke-width="0.9"/>
<circle cx="372.5" cy="409.5" r="1.5" fill="#0000ff"/>
<text x="371.00" y="416.60" font-family="'Liberation Sans', Arial, sans-serif" font-size="10" fill="#000" stroke="#000" stroke-width="0.12" text-anchor="middle" font-weight="normal">244</text>
<rect x="176.4" y="47" width="49.60" height="67.40" fill="#d6d6d6"/>
<text x="179.00" y="60.00" font-family="'Liberation Sans', Arial, sans-serif" font-size="11.6" fill="#000" stroke="#000" stroke-width="0.12" text-anchor="start" font-weight="normal">CV (%)</text>
<rect x="178.4" y="66.6" width="9.60" height="45.40" fill="#f2f2f2"/>
<circle cx="183.20" cy="72.40" r="1.45" fill="#0000ff"/>
<text x="194.00" y="76.58" font-family="'Liberation Sans', Arial, sans-serif" font-size="11.6" fill="#000" stroke="#000" stroke-width="0.12" text-anchor="start" font-weight="normal">&lt;28</text>
<circle cx="183.20" cy="83.60" r="1.45" fill="#00ff00"/>
<text x="194.00" y="87.78" font-family="'Liberation Sans', Arial, sans-serif" font-size="11.6" fill="#000" stroke="#000" stroke-width="0.12" text-anchor="start" font-weight="normal">&lt;29.5</text>
<circle cx="183.20" cy="95.00" r="1.45" fill="#ff0000"/>
<text x="194.00" y="99.18" font-family="'Liberation Sans', Arial, sans-serif" font-size="11.6" fill="#000" stroke="#000" stroke-width="0.12" text-anchor="start" font-weight="normal">&lt;31.5</text>
<circle cx="183.20" cy="106.20" r="1.45" fill="#000000"/>
<text x="194.00" y="110.38" font-family="'Liberation Sans', Arial, sans-serif" font-size="11.6" fill="#000" stroke="#000" stroke-width="0.12" text-anchor="start" font-weight="normal">&lt;35</text>
<rect x="463" y="133.6" width="77.40" height="65.80" fill="#d6d6d6"/>
<text x="465.60" y="146.00" font-family="'Liberation Sans', Arial, sans-serif" font-size="11.6" fill="#000" stroke="#000" stroke-width="0.12" text-anchor="start" font-weight="normal">Seed loss (%)</text>
<rect x="465" y="152.4" width="10.00" height="45.20" fill="#f2f2f2"/>
<circle cx="470.00" cy="158.40" r="1.45" fill="#0000ff"/>
<text x="481.00" y="162.58" font-family="'Liberation Sans', Arial, sans-serif" font-size="11.6" fill="#000" stroke="#000" stroke-width="0.12" text-anchor="start" font-weight="normal">&lt;35</text>
<circle cx="470.00" cy="169.40" r="1.45" fill="#00ff00"/>
<text x="481.00" y="173.58" font-family="'Liberation Sans', Arial, sans-serif" font-size="11.6" fill="#000" stroke="#000" stroke-width="0.12" text-anchor="start" font-weight="normal">&lt;45</text>
<circle cx="470.00" cy="180.60" r="1.45" fill="#ff0000"/>
<text x="481.00" y="184.78" font-family="'Liberation Sans', Arial, sans-serif" font-size="11.6" fill="#000" stroke="#000" stroke-width="0.12" text-anchor="start" font-weight="normal">&lt;55</text>
<circle cx="470.00" cy="192.00" r="1.45" fill="#000000"/>
<text x="481.00" y="196.18" font-family="'Liberation Sans', Arial, sans-serif" font-size="11.6" fill="#000" stroke="#000" stroke-width="0.12" text-anchor="start" font-weight="normal">&lt;60</text>
<rect x="193.7" y="395" width="82.20" height="66.70" fill="#d6d6d6"/>
<text x="195.90" y="407.70" font-family="'Liberation Sans', Arial, sans-serif" font-size="11.5" fill="#000" stroke="#000" stroke-width="0.12" text-anchor="start" font-weight="normal">Seed-trees (%)</text>
<rect x="196.3" y="415" width="9.10" height="44.50" fill="#f2f2f2"/>
<circle cx="200.85" cy="420.10" r="1.45" fill="#0000ff"/>
<text x="211.90" y="424.28" font-family="'Liberation Sans', Arial, sans-serif" font-size="11.6" fill="#000" stroke="#000" stroke-width="0.12" text-anchor="start" font-weight="normal">&lt;35</text>
<circle cx="200.85" cy="431.40" r="1.45" fill="#00ff00"/>
<text x="211.90" y="435.58" font-family="'Liberation Sans', Arial, sans-serif" font-size="11.6" fill="#000" stroke="#000" stroke-width="0.12" text-anchor="start" font-weight="normal">&lt;45</text>
<circle cx="200.85" cy="442.80" r="1.45" fill="#ff0000"/>
<text x="211.90" y="446.98" font-family="'Liberation Sans', Arial, sans-serif" font-size="11.6" fill="#000" stroke="#000" stroke-width="0.12" text-anchor="start" font-weight="normal">&lt;55</text>
<circle cx="200.85" cy="454.10" r="1.45" fill="#000000"/>
<text x="211.90" y="458.28" font-family="'Liberation Sans', Arial, sans-serif" font-size="11.6" fill="#000" stroke="#000" stroke-width="0.12" text-anchor="start" font-weight="normal">&lt;65</text></svg>
</body></html>
